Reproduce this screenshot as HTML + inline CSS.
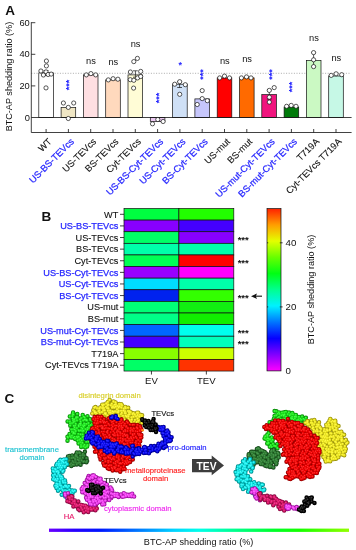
<!DOCTYPE html>
<html><head><meta charset="utf-8"><title>Figure</title>
<style>html,body{margin:0;padding:0;background:#fff}svg{display:block}text{font-family:"Liberation Sans", sans-serif}</style>
</head><body>
<svg width="356" height="550" viewBox="0 0 356 550" fill="#111">
<rect width="356" height="550" fill="#fff"/>
<g id="panelA">
<text x="5.2" y="15.0" font-size="13.5" font-weight="bold">A</text>
<line x1="31.3" y1="73.3" x2="349.6" y2="73.3" stroke="#888" stroke-width="0.7" stroke-dasharray="1 1.6"/>
<rect x="38.80" y="72.90" width="14.6" height="44.60" fill="#ffffff" stroke="#111" stroke-width="0.7"/>
<rect x="61.10" y="107.40" width="14.6" height="10.10" fill="#efe6c4" stroke="#111" stroke-width="0.7"/>
<rect x="83.40" y="74.90" width="14.6" height="42.60" fill="#ffdfe2" stroke="#111" stroke-width="0.7"/>
<rect x="105.70" y="79.90" width="14.6" height="37.60" fill="#ffd9bd" stroke="#111" stroke-width="0.7"/>
<rect x="128.00" y="74.90" width="14.6" height="42.60" fill="#fffcd6" stroke="#111" stroke-width="0.7"/>
<rect x="150.30" y="117.50" width="14.6" height="3.90" fill="#ecc9f2" stroke="#111" stroke-width="0.7"/>
<rect x="172.60" y="84.20" width="14.6" height="33.30" fill="#cfe0f6" stroke="#111" stroke-width="0.7"/>
<rect x="194.90" y="98.90" width="14.6" height="18.60" fill="#c6c6fb" stroke="#111" stroke-width="0.7"/>
<rect x="217.20" y="77.90" width="14.6" height="39.60" fill="#ff0000" stroke="#111" stroke-width="0.7"/>
<rect x="239.50" y="77.90" width="14.6" height="39.60" fill="#ff6a00" stroke="#111" stroke-width="0.7"/>
<rect x="261.80" y="94.60" width="14.6" height="22.90" fill="#f0147e" stroke="#111" stroke-width="0.7"/>
<rect x="284.10" y="107.00" width="14.6" height="10.50" fill="#007a0a" stroke="#111" stroke-width="0.7"/>
<rect x="306.40" y="60.40" width="14.6" height="57.10" fill="#cbf9c3" stroke="#111" stroke-width="0.7"/>
<rect x="328.70" y="76.00" width="14.6" height="41.50" fill="#c6f8e6" stroke="#111" stroke-width="0.7"/>
<path d="M31.3 22.2V132.5H351.6M31.3 117.5H351.6" fill="none" stroke="#111" stroke-width="0.8"/>
<line x1="31.3" y1="22.70" x2="35.3" y2="22.70" stroke="#111" stroke-width="0.8"/>
<line x1="31.3" y1="54.30" x2="35.3" y2="54.30" stroke="#111" stroke-width="0.8"/>
<line x1="31.3" y1="85.90" x2="35.3" y2="85.90" stroke="#111" stroke-width="0.8"/>
<text x="29.8" y="25.70" font-size="9.3" text-anchor="end">60</text>
<text x="29.8" y="57.30" font-size="9.3" text-anchor="end">40</text>
<text x="29.8" y="88.90" font-size="9.3" text-anchor="end">20</text>
<text x="29.8" y="120.50" font-size="9.3" text-anchor="end">0</text>
<line x1="46.10" y1="132.5" x2="46.10" y2="129.0" stroke="#111" stroke-width="0.8"/>
<text transform="translate(47.70 137.60) rotate(-45)" font-size="9.3" text-anchor="end" dominant-baseline="hanging" fill="#111" stroke="#111" stroke-width="0.1">WT</text>
<line x1="68.40" y1="132.5" x2="68.40" y2="129.0" stroke="#111" stroke-width="0.8"/>
<text transform="translate(70.00 137.60) rotate(-45)" font-size="9.3" text-anchor="end" dominant-baseline="hanging" fill="#2828ff" stroke="#2828ff" stroke-width="0.25">US-BS-TEVcs</text>
<line x1="90.70" y1="132.5" x2="90.70" y2="129.0" stroke="#111" stroke-width="0.8"/>
<text transform="translate(92.30 137.60) rotate(-45)" font-size="9.3" text-anchor="end" dominant-baseline="hanging" fill="#111" stroke="#111" stroke-width="0.1">US-TEVcs</text>
<line x1="113.00" y1="132.5" x2="113.00" y2="129.0" stroke="#111" stroke-width="0.8"/>
<text transform="translate(114.60 137.60) rotate(-45)" font-size="9.3" text-anchor="end" dominant-baseline="hanging" fill="#111" stroke="#111" stroke-width="0.1">BS-TEVcs</text>
<line x1="135.30" y1="132.5" x2="135.30" y2="129.0" stroke="#111" stroke-width="0.8"/>
<text transform="translate(136.90 137.60) rotate(-45)" font-size="9.3" text-anchor="end" dominant-baseline="hanging" fill="#111" stroke="#111" stroke-width="0.1">Cyt-TEVcs</text>
<line x1="157.60" y1="132.5" x2="157.60" y2="129.0" stroke="#111" stroke-width="0.8"/>
<text transform="translate(159.20 137.60) rotate(-45)" font-size="9.3" text-anchor="end" dominant-baseline="hanging" fill="#2828ff" stroke="#2828ff" stroke-width="0.25">US-BS-Cyt-TEVcs</text>
<line x1="179.90" y1="132.5" x2="179.90" y2="129.0" stroke="#111" stroke-width="0.8"/>
<text transform="translate(181.50 137.60) rotate(-45)" font-size="9.3" text-anchor="end" dominant-baseline="hanging" fill="#2828ff" stroke="#2828ff" stroke-width="0.25">US-Cyt-TEVcs</text>
<line x1="202.20" y1="132.5" x2="202.20" y2="129.0" stroke="#111" stroke-width="0.8"/>
<text transform="translate(203.80 137.60) rotate(-45)" font-size="9.3" text-anchor="end" dominant-baseline="hanging" fill="#2828ff" stroke="#2828ff" stroke-width="0.25">BS-Cyt-TEVcs</text>
<line x1="224.50" y1="132.5" x2="224.50" y2="129.0" stroke="#111" stroke-width="0.8"/>
<text transform="translate(226.10 137.60) rotate(-45)" font-size="9.3" text-anchor="end" dominant-baseline="hanging" fill="#111" stroke="#111" stroke-width="0.1">US-mut</text>
<line x1="246.80" y1="132.5" x2="246.80" y2="129.0" stroke="#111" stroke-width="0.8"/>
<text transform="translate(248.40 137.60) rotate(-45)" font-size="9.3" text-anchor="end" dominant-baseline="hanging" fill="#111" stroke="#111" stroke-width="0.1">BS-mut</text>
<line x1="269.10" y1="132.5" x2="269.10" y2="129.0" stroke="#111" stroke-width="0.8"/>
<text transform="translate(270.70 137.60) rotate(-45)" font-size="9.3" text-anchor="end" dominant-baseline="hanging" fill="#2828ff" stroke="#2828ff" stroke-width="0.25">US-mut-Cyt-TEVcs</text>
<line x1="291.40" y1="132.5" x2="291.40" y2="129.0" stroke="#111" stroke-width="0.8"/>
<text transform="translate(293.00 137.60) rotate(-45)" font-size="9.3" text-anchor="end" dominant-baseline="hanging" fill="#2828ff" stroke="#2828ff" stroke-width="0.25">BS-mut-Cyt-TEVcs</text>
<line x1="313.70" y1="132.5" x2="313.70" y2="129.0" stroke="#111" stroke-width="0.8"/>
<text transform="translate(315.30 137.60) rotate(-45)" font-size="9.3" text-anchor="end" dominant-baseline="hanging" fill="#111" stroke="#111" stroke-width="0.1">T719A</text>
<line x1="336.00" y1="132.5" x2="336.00" y2="129.0" stroke="#111" stroke-width="0.8"/>
<text transform="translate(337.60 137.60) rotate(-45)" font-size="9.3" text-anchor="end" dominant-baseline="hanging" fill="#111" stroke="#111" stroke-width="0.1">Cyt-TEVcs T719A</text>
<path d="M135.4 70.8V77.2M133.0 70.8h4.8M133.0 77.2h4.8" stroke="#111" stroke-width="0.7" fill="none"/>
<path d="M313.6 52.6V66.6M311.20000000000005 52.6h4.8M311.20000000000005 66.6h4.8" stroke="#111" stroke-width="0.7" fill="none"/>
<path d="M179.6 81.5V87.5M177.2 81.5h4.8M177.2 87.5h4.8" stroke="#111" stroke-width="0.7" fill="none"/>
<path d="M46.1 70.5V75.5M43.7 70.5h4.8M43.7 75.5h4.8" stroke="#111" stroke-width="0.7" fill="none"/>
<path d="M269.3 90V99M266.90000000000003 90h4.8M266.90000000000003 99h4.8" stroke="#111" stroke-width="0.7" fill="none"/>
<circle cx="46.4" cy="61" r="2.1" fill="#fff" stroke="#111" stroke-width="0.7"/>
<circle cx="46.4" cy="65.9" r="2.1" fill="#fff" stroke="#111" stroke-width="0.7"/>
<circle cx="40.9" cy="71" r="2.1" fill="#fff" stroke="#111" stroke-width="0.7"/>
<circle cx="46" cy="71.9" r="2.1" fill="#fff" stroke="#111" stroke-width="0.7"/>
<circle cx="43.4" cy="75" r="2.1" fill="#fff" stroke="#111" stroke-width="0.7"/>
<circle cx="48.1" cy="74.5" r="2.1" fill="#fff" stroke="#111" stroke-width="0.7"/>
<circle cx="51.2" cy="74.1" r="2.1" fill="#fff" stroke="#111" stroke-width="0.7"/>
<circle cx="46" cy="87.9" r="2.1" fill="#fff" stroke="#111" stroke-width="0.7"/>
<circle cx="63.4" cy="103" r="2.1" fill="#fff" stroke="#111" stroke-width="0.7"/>
<circle cx="73.7" cy="103" r="2.1" fill="#fff" stroke="#111" stroke-width="0.7"/>
<circle cx="68.3" cy="107.4" r="2.1" fill="#fff" stroke="#111" stroke-width="0.7"/>
<circle cx="68.3" cy="118.5" r="2.1" fill="#fff" stroke="#111" stroke-width="0.7"/>
<circle cx="86.3" cy="74.9" r="2.1" fill="#fff" stroke="#111" stroke-width="0.7"/>
<circle cx="90.9" cy="73.6" r="2.1" fill="#fff" stroke="#111" stroke-width="0.7"/>
<circle cx="95.7" cy="74.9" r="2.1" fill="#fff" stroke="#111" stroke-width="0.7"/>
<circle cx="108.3" cy="79.9" r="2.1" fill="#fff" stroke="#111" stroke-width="0.7"/>
<circle cx="113.1" cy="78.7" r="2.1" fill="#fff" stroke="#111" stroke-width="0.7"/>
<circle cx="117.9" cy="79.2" r="2.1" fill="#fff" stroke="#111" stroke-width="0.7"/>
<circle cx="137.4" cy="58.4" r="2.1" fill="#fff" stroke="#111" stroke-width="0.7"/>
<circle cx="133.8" cy="61.6" r="2.1" fill="#fff" stroke="#111" stroke-width="0.7"/>
<circle cx="130.4" cy="72.0" r="2.1" fill="#fff" stroke="#111" stroke-width="0.7"/>
<circle cx="140.7" cy="71.4" r="2.1" fill="#fff" stroke="#111" stroke-width="0.7"/>
<circle cx="130.3" cy="79.7" r="2.1" fill="#fff" stroke="#111" stroke-width="0.7"/>
<circle cx="133.8" cy="80.3" r="2.1" fill="#fff" stroke="#111" stroke-width="0.7"/>
<circle cx="137.6" cy="77.9" r="2.1" fill="#fff" stroke="#111" stroke-width="0.7"/>
<circle cx="140.7" cy="76.5" r="2.1" fill="#fff" stroke="#111" stroke-width="0.7"/>
<circle cx="133.6" cy="88.1" r="2.1" fill="#fff" stroke="#111" stroke-width="0.7"/>
<circle cx="152.5" cy="123.8" r="2.1" fill="#fff" stroke="#111" stroke-width="0.7"/>
<circle cx="157.8" cy="119.5" r="2.1" fill="#fff" stroke="#111" stroke-width="0.7"/>
<circle cx="163.1" cy="121.5" r="2.1" fill="#fff" stroke="#111" stroke-width="0.7"/>
<circle cx="179.7" cy="81.7" r="2.1" fill="#fff" stroke="#111" stroke-width="0.7"/>
<circle cx="174.7" cy="84.2" r="2.1" fill="#fff" stroke="#111" stroke-width="0.7"/>
<circle cx="185.3" cy="84.7" r="2.1" fill="#fff" stroke="#111" stroke-width="0.7"/>
<circle cx="179.7" cy="94.3" r="2.1" fill="#fff" stroke="#111" stroke-width="0.7"/>
<circle cx="202.2" cy="90.6" r="2.1" fill="#fff" stroke="#111" stroke-width="0.7"/>
<circle cx="202.2" cy="98.6" r="2.1" fill="#fff" stroke="#111" stroke-width="0.7"/>
<circle cx="207.3" cy="100.7" r="2.1" fill="#fff" stroke="#111" stroke-width="0.7"/>
<circle cx="197.2" cy="104.5" r="2.1" fill="#fff" stroke="#111" stroke-width="0.7"/>
<circle cx="219.7" cy="77.9" r="2.1" fill="#fff" stroke="#111" stroke-width="0.7"/>
<circle cx="224.5" cy="76.1" r="2.1" fill="#fff" stroke="#111" stroke-width="0.7"/>
<circle cx="229.5" cy="77.9" r="2.1" fill="#fff" stroke="#111" stroke-width="0.7"/>
<circle cx="241.4" cy="77.9" r="2.1" fill="#fff" stroke="#111" stroke-width="0.7"/>
<circle cx="246.5" cy="76.9" r="2.1" fill="#fff" stroke="#111" stroke-width="0.7"/>
<circle cx="251" cy="77.9" r="2.1" fill="#fff" stroke="#111" stroke-width="0.7"/>
<circle cx="274.2" cy="87.6" r="2.1" fill="#fff" stroke="#111" stroke-width="0.7"/>
<circle cx="269.3" cy="90.4" r="2.1" fill="#fff" stroke="#111" stroke-width="0.7"/>
<circle cx="269.3" cy="97.2" r="2.1" fill="#fff" stroke="#111" stroke-width="0.7"/>
<circle cx="269.3" cy="102.1" r="2.1" fill="#fff" stroke="#111" stroke-width="0.7"/>
<circle cx="286.6" cy="106.3" r="2.1" fill="#fff" stroke="#111" stroke-width="0.7"/>
<circle cx="291.2" cy="105.4" r="2.1" fill="#fff" stroke="#111" stroke-width="0.7"/>
<circle cx="296" cy="106.3" r="2.1" fill="#fff" stroke="#111" stroke-width="0.7"/>
<circle cx="313.6" cy="52.6" r="2.1" fill="#fff" stroke="#111" stroke-width="0.7"/>
<circle cx="313.6" cy="59.8" r="2.1" fill="#fff" stroke="#111" stroke-width="0.7"/>
<circle cx="313.6" cy="66.6" r="2.1" fill="#fff" stroke="#111" stroke-width="0.7"/>
<circle cx="331.2" cy="75.4" r="2.1" fill="#fff" stroke="#111" stroke-width="0.7"/>
<circle cx="336.1" cy="73.8" r="2.1" fill="#fff" stroke="#111" stroke-width="0.7"/>
<circle cx="341.7" cy="74.7" r="2.1" fill="#fff" stroke="#111" stroke-width="0.7"/>
<text transform="translate(72.30 85.05) rotate(-90)" font-size="9" font-weight="bold" text-anchor="middle" fill="#2828ff">***</text>
<text x="91.00" y="63.70" font-size="9.3" text-anchor="middle">ns</text>
<text x="113.30" y="64.90" font-size="9.3" text-anchor="middle">ns</text>
<text x="135.60" y="46.80" font-size="9.3" text-anchor="middle">ns</text>
<text transform="translate(162.00 97.90) rotate(-90)" font-size="9" font-weight="bold" text-anchor="middle" fill="#2828ff">***</text>
<text x="180.30" y="68.20" font-size="9" font-weight="bold" text-anchor="middle" fill="#2828ff">*</text>
<text transform="translate(205.60 74.50) rotate(-90)" font-size="9" font-weight="bold" text-anchor="middle" fill="#2828ff">***</text>
<text x="224.80" y="64.20" font-size="9.3" text-anchor="middle">ns</text>
<text x="247.10" y="61.70" font-size="9.3" text-anchor="middle">ns</text>
<text transform="translate(274.50 74.60) rotate(-90)" font-size="9" font-weight="bold" text-anchor="middle" fill="#2828ff">***</text>
<text transform="translate(294.80 87.10) rotate(-90)" font-size="9" font-weight="bold" text-anchor="middle" fill="#2828ff">***</text>
<text x="314.00" y="40.50" font-size="9.3" text-anchor="middle">ns</text>
<text x="336.30" y="60.90" font-size="9.3" text-anchor="middle">ns</text>
<text transform="translate(12.2 76.6) rotate(-90)" font-size="9.1" text-anchor="middle">BTC-AP shedding ratio (%)</text>
</g>
<g id="panelB">
<text x="41.5" y="220.9" font-size="13.5" font-weight="bold">B</text>
<rect x="124.0" y="208.50" width="54.90" height="11.61" fill="#00ff40" stroke="#111" stroke-width="0.7"/>
<rect x="178.9" y="208.50" width="54.90" height="11.61" fill="#22ff00" stroke="#111" stroke-width="0.7"/>
<line x1="120.0" y1="214.31" x2="124.0" y2="214.31" stroke="#111" stroke-width="0.8"/>
<text x="118.40" y="217.50" font-size="9.2" text-anchor="end" fill="#111" stroke="#111" stroke-width="0.1">WT</text>
<rect x="124.0" y="220.11" width="54.90" height="11.61" fill="#8800ff" stroke="#111" stroke-width="0.7"/>
<rect x="178.9" y="220.11" width="54.90" height="11.61" fill="#4400ff" stroke="#111" stroke-width="0.7"/>
<line x1="120.0" y1="225.92" x2="124.0" y2="225.92" stroke="#111" stroke-width="0.8"/>
<text x="118.40" y="229.12" font-size="9.2" text-anchor="end" fill="#2828ff" stroke="#2828ff" stroke-width="0.25">US-BS-TEVcs</text>
<rect x="124.0" y="231.72" width="54.90" height="11.61" fill="#00ff66" stroke="#111" stroke-width="0.7"/>
<rect x="178.9" y="231.72" width="54.90" height="11.61" fill="#8800ff" stroke="#111" stroke-width="0.7"/>
<line x1="120.0" y1="237.53" x2="124.0" y2="237.53" stroke="#111" stroke-width="0.8"/>
<text x="118.40" y="240.72" font-size="9.2" text-anchor="end" fill="#111" stroke="#111" stroke-width="0.1">US-TEVcs</text>
<rect x="124.0" y="243.33" width="54.90" height="11.61" fill="#00ffaa" stroke="#111" stroke-width="0.7"/>
<rect x="178.9" y="243.33" width="54.90" height="11.61" fill="#00ffaa" stroke="#111" stroke-width="0.7"/>
<line x1="120.0" y1="249.13" x2="124.0" y2="249.13" stroke="#111" stroke-width="0.8"/>
<text x="118.40" y="252.33" font-size="9.2" text-anchor="end" fill="#111" stroke="#111" stroke-width="0.1">BS-TEVcs</text>
<rect x="124.0" y="254.94" width="54.90" height="11.61" fill="#00ff55" stroke="#111" stroke-width="0.7"/>
<rect x="178.9" y="254.94" width="54.90" height="11.61" fill="#ff0000" stroke="#111" stroke-width="0.7"/>
<line x1="120.0" y1="260.75" x2="124.0" y2="260.75" stroke="#111" stroke-width="0.8"/>
<text x="118.40" y="263.94" font-size="9.2" text-anchor="end" fill="#111" stroke="#111" stroke-width="0.1">Cyt-TEVcs</text>
<rect x="124.0" y="266.55" width="54.90" height="11.61" fill="#9900ff" stroke="#111" stroke-width="0.7"/>
<rect x="178.9" y="266.55" width="54.90" height="11.61" fill="#ff00ff" stroke="#111" stroke-width="0.7"/>
<line x1="120.0" y1="272.36" x2="124.0" y2="272.36" stroke="#111" stroke-width="0.8"/>
<text x="118.40" y="275.56" font-size="9.2" text-anchor="end" fill="#2828ff" stroke="#2828ff" stroke-width="0.25">US-BS-Cyt-TEVcs</text>
<rect x="124.0" y="278.16" width="54.90" height="11.61" fill="#00ddff" stroke="#111" stroke-width="0.7"/>
<rect x="178.9" y="278.16" width="54.90" height="11.61" fill="#00ffaa" stroke="#111" stroke-width="0.7"/>
<line x1="120.0" y1="283.96" x2="124.0" y2="283.96" stroke="#111" stroke-width="0.8"/>
<text x="118.40" y="287.16" font-size="9.2" text-anchor="end" fill="#2828ff" stroke="#2828ff" stroke-width="0.25">US-Cyt-TEVcs</text>
<rect x="124.0" y="289.77" width="54.90" height="11.61" fill="#0022ee" stroke="#111" stroke-width="0.7"/>
<rect x="178.9" y="289.77" width="54.90" height="11.61" fill="#33ff00" stroke="#111" stroke-width="0.7"/>
<line x1="120.0" y1="295.57" x2="124.0" y2="295.57" stroke="#111" stroke-width="0.8"/>
<text x="118.40" y="298.77" font-size="9.2" text-anchor="end" fill="#2828ff" stroke="#2828ff" stroke-width="0.25">BS-Cyt-TEVcs</text>
<rect x="124.0" y="301.38" width="54.90" height="11.61" fill="#00ff77" stroke="#111" stroke-width="0.7"/>
<rect x="178.9" y="301.38" width="54.90" height="11.61" fill="#11ee11" stroke="#111" stroke-width="0.7"/>
<line x1="120.0" y1="307.19" x2="124.0" y2="307.19" stroke="#111" stroke-width="0.8"/>
<text x="118.40" y="310.38" font-size="9.2" text-anchor="end" fill="#111" stroke="#111" stroke-width="0.1">US-mut</text>
<rect x="124.0" y="312.99" width="54.90" height="11.61" fill="#00ff88" stroke="#111" stroke-width="0.7"/>
<rect x="178.9" y="312.99" width="54.90" height="11.61" fill="#11ee00" stroke="#111" stroke-width="0.7"/>
<line x1="120.0" y1="318.80" x2="124.0" y2="318.80" stroke="#111" stroke-width="0.8"/>
<text x="118.40" y="322.00" font-size="9.2" text-anchor="end" fill="#111" stroke="#111" stroke-width="0.1">BS-mut</text>
<rect x="124.0" y="324.60" width="54.90" height="11.61" fill="#0066ff" stroke="#111" stroke-width="0.7"/>
<rect x="178.9" y="324.60" width="54.90" height="11.61" fill="#00ffee" stroke="#111" stroke-width="0.7"/>
<line x1="120.0" y1="330.41" x2="124.0" y2="330.41" stroke="#111" stroke-width="0.8"/>
<text x="118.40" y="333.61" font-size="9.2" text-anchor="end" fill="#2828ff" stroke="#2828ff" stroke-width="0.25">US-mut-Cyt-TEVcs</text>
<rect x="124.0" y="336.21" width="54.90" height="11.61" fill="#4400ff" stroke="#111" stroke-width="0.7"/>
<rect x="178.9" y="336.21" width="54.90" height="11.61" fill="#00ffbb" stroke="#111" stroke-width="0.7"/>
<line x1="120.0" y1="342.01" x2="124.0" y2="342.01" stroke="#111" stroke-width="0.8"/>
<text x="118.40" y="345.21" font-size="9.2" text-anchor="end" fill="#2828ff" stroke="#2828ff" stroke-width="0.25">BS-mut-Cyt-TEVcs</text>
<rect x="124.0" y="347.82" width="54.90" height="11.61" fill="#88ff00" stroke="#111" stroke-width="0.7"/>
<rect x="178.9" y="347.82" width="54.90" height="11.61" fill="#ccff00" stroke="#111" stroke-width="0.7"/>
<line x1="120.0" y1="353.62" x2="124.0" y2="353.62" stroke="#111" stroke-width="0.8"/>
<text x="118.40" y="356.82" font-size="9.2" text-anchor="end" fill="#111" stroke="#111" stroke-width="0.1">T719A</text>
<rect x="124.0" y="359.43" width="54.90" height="11.61" fill="#00ff66" stroke="#111" stroke-width="0.7"/>
<rect x="178.9" y="359.43" width="54.90" height="11.61" fill="#ff3300" stroke="#111" stroke-width="0.7"/>
<line x1="120.0" y1="365.24" x2="124.0" y2="365.24" stroke="#111" stroke-width="0.8"/>
<text x="118.40" y="368.44" font-size="9.2" text-anchor="end" fill="#111" stroke="#111" stroke-width="0.1">Cyt-TEVcs T719A</text>
<line x1="151.45" y1="371.04" x2="151.45" y2="374.54" stroke="#111" stroke-width="0.8"/>
<text x="151.45" y="383.54" font-size="9.6" text-anchor="middle">EV</text>
<line x1="206.35" y1="371.04" x2="206.35" y2="374.54" stroke="#111" stroke-width="0.8"/>
<text x="206.35" y="383.54" font-size="9.6" text-anchor="middle">TEV</text>
<text x="243.2" y="242.62" font-size="9.5" font-weight="bold" text-anchor="middle">***</text>
<text x="243.2" y="265.85" font-size="9.5" font-weight="bold" text-anchor="middle">***</text>
<text x="243.2" y="300.68" font-size="9.5" font-weight="bold" text-anchor="middle">***</text>
<text x="243.2" y="335.50" font-size="9.5" font-weight="bold" text-anchor="middle">***</text>
<text x="243.2" y="347.12" font-size="9.5" font-weight="bold" text-anchor="middle">***</text>
<path d="M262 296.18H254" stroke="#111" stroke-width="1.1" fill="none"/><path d="M251 296.18L257 293.48L255.8 296.18L257 298.88Z" fill="#111"/>
<defs><linearGradient id="cb" x1="0" y1="1" x2="0" y2="0">
<stop offset="0.00" stop-color="#ff00ff"/>
<stop offset="0.10" stop-color="#8200ff"/>
<stop offset="0.20" stop-color="#0600ff"/>
<stop offset="0.30" stop-color="#0075ff"/>
<stop offset="0.40" stop-color="#00f1ff"/>
<stop offset="0.50" stop-color="#00ff90"/>
<stop offset="0.60" stop-color="#00ff14"/>
<stop offset="0.70" stop-color="#67ff00"/>
<stop offset="0.80" stop-color="#e4ff00"/>
<stop offset="0.90" stop-color="#ff9d00"/>
<stop offset="1.00" stop-color="#ff2100"/>
</linearGradient></defs>
<rect x="267.0" y="208.6" width="14.00" height="162.30" fill="url(#cb)" stroke="#111" stroke-width="0.7"/>
<text x="285.6" y="373.70" font-size="9.7">0</text>
<line x1="279.8" y1="306.9" x2="282.6" y2="306.9" stroke="#111" stroke-width="0.8"/>
<line x1="267.0" y1="306.9" x2="268.2" y2="306.9" stroke="#111" stroke-width="0.8"/>
<text x="285.6" y="310.30" font-size="9.7">20</text>
<line x1="279.8" y1="242.8" x2="282.6" y2="242.8" stroke="#111" stroke-width="0.8"/>
<line x1="267.0" y1="242.8" x2="268.2" y2="242.8" stroke="#111" stroke-width="0.8"/>
<text x="285.6" y="246.20" font-size="9.7">40</text>
<text transform="translate(313.8 289.5) rotate(-90)" font-size="9.1" text-anchor="middle">BTC-AP shedding ratio (%)</text>
</g>
<g id="panelC">
<text x="4.6" y="402.5" font-size="13.5" font-weight="bold">C</text>
<filter id="soft" x="-5%" y="-5%" width="110%" height="110%"><feGaussianBlur stdDeviation="0.45"/></filter>
<g filter="url(#soft)">
<defs>
<radialGradient id="gred" cx="0.45" cy="0.42" r="0.6"><stop offset="0" stop-color="#ff3030"/><stop offset="0.6" stop-color="#ea0000"/><stop offset="1" stop-color="#980000"/></radialGradient>
<circle id="cred" r="1.55" fill="url(#gred)"/>
<radialGradient id="gblue" cx="0.45" cy="0.42" r="0.6"><stop offset="0" stop-color="#3434ff"/><stop offset="0.6" stop-color="#0606e8"/><stop offset="1" stop-color="#000090"/></radialGradient>
<circle id="cblue" r="1.55" fill="url(#gblue)"/>
<radialGradient id="gyel" cx="0.45" cy="0.42" r="0.6"><stop offset="0" stop-color="#fffa48"/><stop offset="0.6" stop-color="#e8e01e"/><stop offset="1" stop-color="#9c9410"/></radialGradient>
<circle id="cyel" r="1.55" fill="url(#gyel)"/>
<radialGradient id="ggrn" cx="0.45" cy="0.42" r="0.6"><stop offset="0" stop-color="#48ff48"/><stop offset="0.6" stop-color="#1ade1a"/><stop offset="1" stop-color="#0c900c"/></radialGradient>
<circle id="cgrn" r="1.55" fill="url(#ggrn)"/>
<radialGradient id="gdgr" cx="0.45" cy="0.42" r="0.6"><stop offset="0" stop-color="#4a964e"/><stop offset="0.6" stop-color="#2c7830"/><stop offset="1" stop-color="#17461a"/></radialGradient>
<circle id="cdgr" r="1.55" fill="url(#gdgr)"/>
<radialGradient id="gcya" cx="0.45" cy="0.42" r="0.6"><stop offset="0" stop-color="#48ffff"/><stop offset="0.6" stop-color="#0cdcdc"/><stop offset="1" stop-color="#009090"/></radialGradient>
<circle id="ccya" r="1.55" fill="url(#gcya)"/>
<radialGradient id="gcri" cx="0.45" cy="0.42" r="0.6"><stop offset="0" stop-color="#f03c8c"/><stop offset="0.6" stop-color="#d41464"/><stop offset="1" stop-color="#880840"/></radialGradient>
<circle id="ccri" r="1.55" fill="url(#gcri)"/>
<radialGradient id="gmag" cx="0.45" cy="0.42" r="0.6"><stop offset="0" stop-color="#ff6cff"/><stop offset="0.6" stop-color="#ea38ea"/><stop offset="1" stop-color="#9c149c"/></radialGradient>
<circle id="cmag" r="1.55" fill="url(#gmag)"/>
<radialGradient id="gblk" cx="0.45" cy="0.42" r="0.6"><stop offset="0" stop-color="#3a3a3a"/><stop offset="0.6" stop-color="#080808"/><stop offset="1" stop-color="#000000"/></radialGradient>
<circle id="cblk" r="1.55" fill="url(#gblk)"/>
</defs>
<path d="M73.5 414.7h0M82.5 442.9h0M85.4 447.4h0M72.1 435.6h0M84.3 423.6h0M86.4 442.0h0M74.7 427.5h0M87.7 440.6h0M82.6 429.0h0M73.9 432.4h0M78.7 425.5h0M81.4 427.8h0M86.3 420.4h0M75.2 438.9h0M86.2 419.7h0M74.9 429.7h0M87.1 420.5h0M68.0 437.5h0M78.8 437.0h0M75.9 431.2h0M77.7 417.4h0M83.6 431.0h0M78.7 430.3h0M90.4 420.1h0M77.1 436.6h0M86.3 433.2h0M89.0 426.0h0M82.8 434.6h0M71.3 429.5h0M77.4 437.7h0M83.7 426.9h0M81.3 418.2h0M80.1 419.4h0M81.0 430.5h0M85.5 429.2h0M73.6 437.8h0M84.5 439.7h0M87.0 431.7h0M76.4 417.2h0M91.0 425.1h0M70.2 423.4h0M72.2 423.3h0M74.7 436.8h0M82.7 414.9h0M75.9 423.9h0M87.5 416.2h0M80.9 423.4h0M80.5 442.4h0M89.1 441.1h0M74.4 419.5h0M80.6 438.8h0M90.0 419.0h0M69.6 434.0h0M88.6 441.8h0M81.9 440.6h0M77.3 414.0h0M88.5 423.2h0M92.3 423.9h0M73.2 420.6h0M89.2 428.2h0M73.1 412.5h0M72.5 416.2h0M92.4 420.7h0M86.5 424.1h0M84.4 436.8h0M83.7 416.9h0M82.4 431.4h0M81.2 446.9h0M75.1 433.7h0M78.6 443.5h0M83.6 446.4h0M79.4 440.0h0M79.2 430.9h0M73.8 426.0h0M84.8 419.6h0M82.7 437.1h0M67.6 421.4h0M76.2 418.1h0M79.7 424.0h0M73.6 422.3h0M75.4 425.9h0M73.5 433.4h0M87.5 429.5h0M67.5 440.7h0M87.5 445.1h0M89.5 432.1h0M77.7 440.6h0M67.5 436.8h0M84.8 417.6h0M70.3 425.7h0M81.2 445.1h0M87.1 446.5h0M72.7 418.8h0M70.1 421.6h0M80.8 434.5h0M77.2 420.5h0M77.0 428.3h0M84.6 445.0h0M83.7 438.7h0M83.2 425.5h0M73.2 429.3h0M78.8 426.6h0M74.9 421.4h0M80.7 421.6h0M69.8 416.5h0M71.1 437.5h0M70.1 436.1h0M72.7 414.3h0M84.8 425.6h0M78.4 434.1h0M83.3 420.6h0M87.6 427.8h0M80.8 425.1h0M72.2 432.0h0" stroke="#0c900c" stroke-width="4.5" stroke-linecap="round" fill="none"/>
<path d="M73.5 414.7h0M82.5 442.9h0M85.4 447.4h0M72.1 435.6h0M84.3 423.6h0M86.4 442.0h0M74.7 427.5h0M87.7 440.6h0M82.6 429.0h0M73.9 432.4h0M78.7 425.5h0M81.4 427.8h0M86.3 420.4h0M75.2 438.9h0M86.2 419.7h0M74.9 429.7h0M87.1 420.5h0M68.0 437.5h0M78.8 437.0h0M75.9 431.2h0M77.7 417.4h0M83.6 431.0h0M78.7 430.3h0M90.4 420.1h0M77.1 436.6h0M86.3 433.2h0M89.0 426.0h0M82.8 434.6h0M71.3 429.5h0M77.4 437.7h0M83.7 426.9h0M81.3 418.2h0M80.1 419.4h0M81.0 430.5h0M85.5 429.2h0M73.6 437.8h0M84.5 439.7h0M87.0 431.7h0M76.4 417.2h0M91.0 425.1h0M70.2 423.4h0M72.2 423.3h0M74.7 436.8h0M82.7 414.9h0M75.9 423.9h0M87.5 416.2h0M80.9 423.4h0M80.5 442.4h0M89.1 441.1h0M74.4 419.5h0M80.6 438.8h0M90.0 419.0h0M69.6 434.0h0M88.6 441.8h0M81.9 440.6h0M77.3 414.0h0M88.5 423.2h0M92.3 423.9h0M73.2 420.6h0M89.2 428.2h0M73.1 412.5h0M72.5 416.2h0M92.4 420.7h0M86.5 424.1h0M84.4 436.8h0M83.7 416.9h0M82.4 431.4h0M81.2 446.9h0M75.1 433.7h0M78.6 443.5h0M83.6 446.4h0M79.4 440.0h0M79.2 430.9h0M73.8 426.0h0M84.8 419.6h0M82.7 437.1h0M67.6 421.4h0M76.2 418.1h0M79.7 424.0h0M73.6 422.3h0M75.4 425.9h0M73.5 433.4h0M87.5 429.5h0M67.5 440.7h0M87.5 445.1h0M89.5 432.1h0M77.7 440.6h0M67.5 436.8h0M84.8 417.6h0M70.3 425.7h0M81.2 445.1h0M87.1 446.5h0M72.7 418.8h0M70.1 421.6h0M80.8 434.5h0M77.2 420.5h0M77.0 428.3h0M84.6 445.0h0M83.7 438.7h0M83.2 425.5h0M73.2 429.3h0M78.8 426.6h0M74.9 421.4h0M80.7 421.6h0M69.8 416.5h0M71.1 437.5h0M70.1 436.1h0M72.7 414.3h0M84.8 425.6h0M78.4 434.1h0M83.3 420.6h0M87.6 427.8h0M80.8 425.1h0M72.2 432.0h0" stroke="#1ade1a" stroke-width="2.8" stroke-linecap="round" fill="none"/>
<path d="M73.3 414.4h0M82.3 442.7h0M85.2 447.2h0M71.9 435.4h0M84.1 423.3h0M86.2 441.8h0M74.5 427.2h0M87.5 440.3h0M82.4 428.8h0M73.7 432.2h0M78.5 425.2h0M81.2 427.6h0M86.1 420.2h0M75.0 438.7h0M86.0 419.4h0M74.7 429.4h0M86.9 420.3h0M67.8 437.2h0M78.6 436.7h0M75.7 430.9h0M77.5 417.1h0M83.4 430.7h0M78.5 430.1h0M90.2 419.9h0M76.9 436.4h0M86.1 433.0h0M88.8 425.8h0M82.6 434.3h0M71.1 429.2h0M77.2 437.5h0M83.5 426.6h0M81.1 418.0h0M79.9 419.2h0M80.8 430.3h0M85.3 429.0h0M73.4 437.5h0M84.3 439.4h0M86.8 431.5h0M76.2 417.0h0M90.8 424.9h0M70.0 423.2h0M72.0 423.1h0M74.5 436.6h0M82.5 414.7h0M75.7 423.7h0M87.3 415.9h0M80.7 423.2h0M80.3 442.1h0M88.9 440.9h0M74.2 419.2h0M80.4 438.5h0M89.8 418.7h0M69.4 433.7h0M88.4 441.6h0M81.7 440.3h0M77.1 413.8h0M88.3 423.0h0M92.1 423.7h0M73.0 420.3h0M89.0 428.0h0M72.9 412.3h0M72.3 415.9h0M92.2 420.5h0M86.3 423.8h0M84.2 436.5h0M83.5 416.6h0M82.2 431.1h0M81.0 446.7h0M74.9 433.5h0M78.4 443.2h0M83.4 446.1h0M79.2 439.7h0M79.0 430.7h0M73.6 425.8h0M84.6 419.4h0M82.5 436.9h0M67.4 421.1h0M76.0 417.9h0M79.5 423.8h0M73.4 422.0h0M75.2 425.6h0M73.3 433.2h0M87.3 429.3h0M67.3 440.4h0M87.3 444.9h0M89.3 431.9h0M77.5 440.3h0M67.3 436.5h0M84.6 417.3h0M70.1 425.4h0M81.0 444.9h0M86.9 446.3h0M72.5 418.5h0M69.9 421.3h0M80.6 434.3h0M77.0 420.2h0M76.8 428.0h0M84.4 444.7h0M83.5 438.5h0M83.0 425.3h0M73.0 429.1h0M78.6 426.3h0M74.7 421.1h0M80.5 421.4h0M69.6 416.2h0M70.9 437.3h0M69.9 435.9h0M72.5 414.0h0M84.6 425.3h0M78.2 433.8h0M83.1 420.3h0M87.4 427.6h0M80.6 424.9h0M72.0 431.7h0" stroke="#48ff48" stroke-width="1.45" stroke-linecap="round" fill="none"/>
<path d="M107.9 405.5h0M118.5 415.4h0M98.6 411.2h0M99.4 410.6h0M140.2 414.8h0M106.4 403.5h0M141.7 416.8h0M130.2 423.0h0M135.0 414.6h0M95.5 407.1h0M119.5 417.4h0M144.1 421.4h0M93.3 410.3h0M135.1 419.9h0M125.2 411.5h0M115.9 415.7h0M132.0 423.8h0M112.5 414.3h0M122.0 420.2h0M94.4 407.7h0M112.7 411.4h0M128.2 407.8h0M111.0 405.4h0M125.8 415.9h0M126.7 416.7h0M103.4 410.3h0M128.3 415.1h0M128.5 416.8h0M97.2 408.4h0M116.0 404.4h0M141.9 423.1h0M99.7 415.3h0M110.3 410.7h0M106.3 417.8h0M138.4 420.8h0M123.5 410.6h0M102.8 405.8h0M105.9 414.3h0M117.1 409.4h0M142.4 421.2h0M105.9 418.7h0M129.6 414.4h0M121.1 414.4h0M118.7 410.9h0M106.2 406.8h0M123.1 415.9h0M134.6 424.5h0M99.5 408.5h0M123.6 418.1h0M121.2 410.8h0M107.8 402.0h0M132.5 425.5h0M129.7 420.2h0M115.9 406.8h0M136.2 416.4h0M133.5 413.2h0M113.5 412.3h0M131.5 417.3h0M111.0 416.5h0M104.8 410.4h0M125.7 408.2h0M121.3 404.2h0M113.5 401.5h0M128.6 419.1h0M132.6 414.3h0M102.4 408.2h0M105.9 413.3h0M127.4 422.3h0M139.5 416.7h0M107.8 419.2h0M114.5 417.2h0M137.6 418.7h0M107.2 408.2h0M129.6 411.4h0M100.4 407.3h0M133.5 416.9h0M121.3 417.7h0M110.0 418.6h0M107.7 415.7h0M110.8 413.0h0M124.0 408.6h0M117.4 412.2h0M104.0 417.7h0M104.9 413.4h0M94.7 411.5h0M134.0 422.3h0M110.8 415.0h0M129.2 412.9h0M111.8 403.8h0M109.9 416.5h0M108.4 404.8h0M109.3 412.9h0M120.5 419.5h0M115.2 411.5h0M137.1 412.7h0M99.8 412.7h0M103.2 415.5h0M102.2 404.7h0M140.5 420.0h0M123.3 421.3h0M115.6 402.4h0M129.2 421.4h0M137.8 415.3h0M118.8 407.6h0M119.7 406.5h0M108.4 408.5h0M125.3 407.0h0M99.5 416.4h0M124.7 419.8h0M117.6 406.1h0M119.3 404.1h0M130.7 412.3h0M117.4 417.4h0M128.2 411.2h0M112.2 407.7h0M136.3 426.8h0M121.4 407.7h0M138.0 423.6h0M96.3 415.3h0M109.6 400.0h0M104.0 404.6h0M113.6 418.9h0M131.9 419.7h0M114.6 404.8h0M118.4 412.6h0M116.1 419.3h0M92.3 413.6h0M113.2 406.5h0M118.3 418.9h0M122.2 405.5h0M114.3 407.6h0M125.8 413.3h0M94.9 412.8h0M133.9 426.6h0M97.0 414.2h0M96.1 412.7h0M131.2 422.3h0M104.0 408.2h0M137.0 422.2h0M142.1 415.3h0M124.8 413.2h0M138.2 412.7h0M111.3 420.8h0M102.1 412.2h0M108.0 410.9h0M121.8 412.9h0" stroke="#9c9410" stroke-width="4.5" stroke-linecap="round" fill="none"/>
<path d="M107.9 405.5h0M118.5 415.4h0M98.6 411.2h0M99.4 410.6h0M140.2 414.8h0M106.4 403.5h0M141.7 416.8h0M130.2 423.0h0M135.0 414.6h0M95.5 407.1h0M119.5 417.4h0M144.1 421.4h0M93.3 410.3h0M135.1 419.9h0M125.2 411.5h0M115.9 415.7h0M132.0 423.8h0M112.5 414.3h0M122.0 420.2h0M94.4 407.7h0M112.7 411.4h0M128.2 407.8h0M111.0 405.4h0M125.8 415.9h0M126.7 416.7h0M103.4 410.3h0M128.3 415.1h0M128.5 416.8h0M97.2 408.4h0M116.0 404.4h0M141.9 423.1h0M99.7 415.3h0M110.3 410.7h0M106.3 417.8h0M138.4 420.8h0M123.5 410.6h0M102.8 405.8h0M105.9 414.3h0M117.1 409.4h0M142.4 421.2h0M105.9 418.7h0M129.6 414.4h0M121.1 414.4h0M118.7 410.9h0M106.2 406.8h0M123.1 415.9h0M134.6 424.5h0M99.5 408.5h0M123.6 418.1h0M121.2 410.8h0M107.8 402.0h0M132.5 425.5h0M129.7 420.2h0M115.9 406.8h0M136.2 416.4h0M133.5 413.2h0M113.5 412.3h0M131.5 417.3h0M111.0 416.5h0M104.8 410.4h0M125.7 408.2h0M121.3 404.2h0M113.5 401.5h0M128.6 419.1h0M132.6 414.3h0M102.4 408.2h0M105.9 413.3h0M127.4 422.3h0M139.5 416.7h0M107.8 419.2h0M114.5 417.2h0M137.6 418.7h0M107.2 408.2h0M129.6 411.4h0M100.4 407.3h0M133.5 416.9h0M121.3 417.7h0M110.0 418.6h0M107.7 415.7h0M110.8 413.0h0M124.0 408.6h0M117.4 412.2h0M104.0 417.7h0M104.9 413.4h0M94.7 411.5h0M134.0 422.3h0M110.8 415.0h0M129.2 412.9h0M111.8 403.8h0M109.9 416.5h0M108.4 404.8h0M109.3 412.9h0M120.5 419.5h0M115.2 411.5h0M137.1 412.7h0M99.8 412.7h0M103.2 415.5h0M102.2 404.7h0M140.5 420.0h0M123.3 421.3h0M115.6 402.4h0M129.2 421.4h0M137.8 415.3h0M118.8 407.6h0M119.7 406.5h0M108.4 408.5h0M125.3 407.0h0M99.5 416.4h0M124.7 419.8h0M117.6 406.1h0M119.3 404.1h0M130.7 412.3h0M117.4 417.4h0M128.2 411.2h0M112.2 407.7h0M136.3 426.8h0M121.4 407.7h0M138.0 423.6h0M96.3 415.3h0M109.6 400.0h0M104.0 404.6h0M113.6 418.9h0M131.9 419.7h0M114.6 404.8h0M118.4 412.6h0M116.1 419.3h0M92.3 413.6h0M113.2 406.5h0M118.3 418.9h0M122.2 405.5h0M114.3 407.6h0M125.8 413.3h0M94.9 412.8h0M133.9 426.6h0M97.0 414.2h0M96.1 412.7h0M131.2 422.3h0M104.0 408.2h0M137.0 422.2h0M142.1 415.3h0M124.8 413.2h0M138.2 412.7h0M111.3 420.8h0M102.1 412.2h0M108.0 410.9h0M121.8 412.9h0" stroke="#e8e01e" stroke-width="2.8" stroke-linecap="round" fill="none"/>
<path d="M107.7 405.3h0M118.3 415.2h0M98.4 410.9h0M99.2 410.4h0M140.0 414.6h0M106.2 403.2h0M141.5 416.6h0M130.0 422.8h0M134.8 414.3h0M95.3 406.8h0M119.3 417.2h0M143.9 421.1h0M93.1 410.1h0M134.9 419.6h0M125.0 411.3h0M115.7 415.5h0M131.8 423.5h0M112.3 414.0h0M121.8 419.9h0M94.2 407.5h0M112.5 411.2h0M128.0 407.5h0M110.8 405.2h0M125.6 415.6h0M126.5 416.5h0M103.2 410.1h0M128.1 414.9h0M128.3 416.6h0M97.0 408.1h0M115.8 404.2h0M141.7 422.9h0M99.5 415.1h0M110.1 410.4h0M106.1 417.6h0M138.2 420.6h0M123.3 410.4h0M102.6 405.5h0M105.7 414.1h0M116.9 409.2h0M142.2 421.0h0M105.7 418.4h0M129.4 414.2h0M120.9 414.1h0M118.5 410.7h0M106.0 406.5h0M122.9 415.6h0M134.4 424.2h0M99.3 408.2h0M123.4 417.9h0M121.0 410.5h0M107.6 401.7h0M132.3 425.2h0M129.5 419.9h0M115.7 406.5h0M136.0 416.2h0M133.3 412.9h0M113.3 412.0h0M131.3 417.1h0M110.8 416.3h0M104.6 410.2h0M125.5 408.0h0M121.1 404.0h0M113.3 401.3h0M128.4 418.8h0M132.4 414.0h0M102.2 407.9h0M105.7 413.1h0M127.2 422.1h0M139.3 416.5h0M107.6 419.0h0M114.3 416.9h0M137.4 418.5h0M107.0 407.9h0M129.4 411.1h0M100.2 407.0h0M133.3 416.6h0M121.1 417.5h0M109.8 418.3h0M107.5 415.5h0M110.6 412.7h0M123.8 408.3h0M117.2 411.9h0M103.8 417.5h0M104.7 413.2h0M94.5 411.2h0M133.8 422.1h0M110.6 414.7h0M129.0 412.6h0M111.6 403.5h0M109.7 416.3h0M108.2 404.5h0M109.1 412.6h0M120.3 419.2h0M115.0 411.2h0M136.9 412.5h0M99.6 412.4h0M103.0 415.2h0M102.0 404.4h0M140.3 419.7h0M123.1 421.0h0M115.4 402.2h0M129.0 421.1h0M137.6 415.0h0M118.6 407.3h0M119.5 406.2h0M108.2 408.2h0M125.1 406.7h0M99.3 416.2h0M124.5 419.6h0M117.4 405.9h0M119.1 403.8h0M130.5 412.0h0M117.2 417.2h0M128.0 410.9h0M112.0 407.4h0M136.1 426.5h0M121.2 407.5h0M137.8 423.4h0M96.1 415.1h0M109.4 399.7h0M103.8 404.4h0M113.4 418.7h0M131.7 419.5h0M114.4 404.5h0M118.2 412.3h0M115.9 419.0h0M92.1 413.3h0M113.0 406.2h0M118.1 418.6h0M122.0 405.3h0M114.1 407.4h0M125.6 413.1h0M94.7 412.5h0M133.7 426.4h0M96.8 414.0h0M95.9 412.5h0M131.0 422.0h0M103.8 408.0h0M136.8 421.9h0M141.9 415.0h0M124.6 413.0h0M138.0 412.4h0M111.1 420.6h0M101.9 411.9h0M107.8 410.6h0M121.6 412.7h0" stroke="#fffa48" stroke-width="1.45" stroke-linecap="round" fill="none"/>
<path d="M127.9 457.7h0M128.0 453.2h0M120.4 452.3h0M114.2 448.1h0M111.8 467.6h0M126.8 454.2h0M109.9 465.4h0M95.6 440.4h0M105.5 422.7h0M108.8 465.8h0M107.8 430.7h0M114.3 420.8h0M117.7 453.6h0M104.3 455.2h0M134.4 450.8h0M123.9 443.7h0M128.1 440.9h0M123.8 449.1h0M125.4 439.3h0M118.8 427.0h0M96.9 439.2h0M105.5 452.1h0M95.3 437.8h0M114.9 429.2h0M110.4 437.1h0M127.5 443.3h0M102.3 447.6h0M104.1 418.9h0M103.3 445.1h0M103.2 443.4h0M111.6 428.2h0M132.6 448.6h0M109.0 460.9h0M108.1 460.9h0M130.6 433.4h0M112.0 425.2h0M111.8 459.6h0M126.2 440.9h0M90.6 434.7h0M101.7 444.2h0M126.2 462.5h0M118.1 468.9h0M132.7 434.5h0M95.3 420.7h0M135.8 431.3h0M100.3 439.9h0M91.9 428.9h0M112.5 438.5h0M96.0 418.9h0M125.7 435.7h0M94.2 444.8h0M126.9 463.8h0M113.0 434.6h0M119.1 423.9h0M130.1 462.0h0M112.6 470.5h0M95.0 451.8h0M131.0 437.1h0M104.0 458.3h0M132.5 446.8h0M114.9 468.4h0M125.1 423.8h0M116.4 453.5h0M101.9 426.0h0M99.9 443.1h0M127.8 445.7h0M133.6 428.3h0M112.0 429.8h0M139.5 434.2h0M104.8 425.7h0M118.0 449.5h0M100.4 426.1h0M113.5 431.5h0M103.3 463.1h0M116.5 422.4h0M111.0 462.1h0M100.8 419.6h0M132.8 459.5h0M105.3 434.8h0M98.0 426.3h0M112.7 451.8h0M99.1 432.4h0M124.3 447.3h0M137.3 446.5h0M100.4 451.4h0M133.0 435.5h0M132.7 424.9h0M118.6 458.1h0M112.8 449.8h0M107.6 438.4h0M110.2 418.6h0M121.8 458.5h0M121.6 450.1h0M136.8 438.1h0M113.6 423.9h0M125.2 449.4h0M94.2 429.8h0M115.3 451.4h0M91.7 441.1h0M100.4 436.2h0M105.5 461.5h0M93.0 427.9h0M102.9 427.3h0M127.9 423.0h0M115.9 428.3h0M105.8 440.6h0M125.2 451.9h0M99.7 416.9h0M98.7 440.2h0M106.7 465.3h0M118.0 462.3h0M123.1 422.4h0M92.7 433.2h0M112.1 447.9h0M130.0 450.7h0M116.7 457.2h0M101.6 416.7h0M117.3 460.9h0M108.3 428.3h0M113.8 463.2h0M112.9 426.7h0M92.7 435.9h0M109.6 428.8h0M138.3 440.2h0M132.4 442.8h0M110.2 455.5h0M121.4 427.4h0M133.9 438.0h0M98.8 430.2h0M97.7 421.1h0M121.4 463.9h0M102.0 455.4h0M125.4 456.7h0M125.4 444.2h0M121.5 419.3h0M98.2 445.6h0M109.6 425.3h0M111.6 455.2h0M137.4 428.9h0M117.9 440.4h0M128.1 428.9h0M92.9 439.8h0M101.9 428.3h0M104.1 431.7h0M104.4 429.0h0M96.1 432.2h0M132.8 445.1h0M106.6 442.0h0M135.4 442.8h0M102.6 428.8h0M136.2 441.3h0M122.5 433.8h0M130.3 446.9h0M112.5 468.7h0M126.5 426.3h0M110.2 448.7h0M119.1 460.0h0M122.9 438.8h0M105.5 443.1h0M103.6 435.4h0M106.9 436.7h0M130.1 440.8h0M122.8 427.7h0M130.0 424.7h0M102.8 421.0h0M122.8 460.4h0M109.8 447.4h0M106.4 449.9h0M129.1 456.6h0M100.7 452.7h0M127.1 435.0h0M120.4 435.4h0M122.3 442.0h0M120.2 432.2h0M138.8 443.6h0M114.4 439.3h0M118.8 465.9h0M107.8 439.9h0M127.1 451.8h0M119.6 463.9h0M117.4 446.4h0M111.1 444.1h0M129.2 438.9h0M125.3 461.1h0M128.6 462.5h0M114.1 456.8h0M121.0 467.4h0M110.1 450.8h0M94.2 443.3h0M116.9 432.1h0M99.7 447.9h0M136.5 443.3h0M113.0 421.8h0M98.1 418.8h0M97.8 426.9h0M111.4 465.4h0M104.1 453.9h0M140.2 441.3h0M93.5 431.5h0M105.8 454.2h0M116.4 465.4h0M127.6 437.9h0M105.5 465.9h0M114.8 416.8h0M128.1 428.2h0M97.4 429.1h0M96.6 423.5h0M130.7 457.3h0M136.7 427.4h0M96.1 435.9h0M124.7 469.0h0M140.0 438.1h0M130.6 442.8h0M116.8 425.6h0M115.4 467.6h0M115.3 435.5h0M127.6 431.2h0M99.2 454.2h0M134.3 428.8h0M96.7 451.6h0M123.3 452.8h0M130.4 430.6h0M110.6 416.9h0M113.0 445.3h0M133.2 431.2h0M124.4 445.1h0M116.7 419.3h0M109.1 469.0h0M131.6 445.0h0M137.9 434.1h0M118.0 451.9h0M123.0 469.2h0M114.3 459.5h0M90.5 432.7h0M139.4 445.4h0M120.7 447.9h0M101.8 438.3h0M137.5 425.0h0M135.9 436.7h0M101.9 451.7h0M141.4 429.5h0M135.3 448.9h0M141.3 437.6h0M112.7 440.9h0M141.4 434.9h0M108.8 453.6h0M101.8 431.9h0M100.9 422.3h0M132.9 450.7h0M110.7 432.3h0M114.1 435.6h0M109.7 437.6h0M105.1 459.3h0M106.1 428.1h0M94.6 416.9h0M111.9 422.3h0M126.9 421.6h0M99.4 434.0h0M132.3 430.1h0M127.7 449.1h0M119.5 425.7h0M130.5 448.8h0M98.1 423.2h0M95.3 444.7h0M101.4 449.0h0M106.9 421.8h0M120.5 433.2h0M127.6 436.1h0M113.1 458.4h0M119.3 429.1h0M126.3 427.0h0M108.2 456.5h0M117.5 430.3h0M125.3 429.9h0M95.5 425.8h0M98.7 448.5h0M93.5 419.2h0M96.3 441.9h0M115.7 450.0h0M97.4 434.2h0M106.9 446.6h0M108.3 462.8h0M118.2 470.2h0M113.9 442.2h0M109.1 442.8h0M140.0 426.3h0M121.4 423.8h0M114.0 453.0h0M130.6 431.3h0M104.2 465.5h0M106.8 432.1h0M92.5 442.7h0M119.0 456.4h0M111.2 453.6h0M98.0 436.5h0M120.7 438.2h0M120.2 421.8h0M100.6 437.9h0M108.5 424.0h0M120.5 440.9h0M139.2 435.4h0M116.3 443.3h0M137.6 431.7h0M131.6 438.6h0M117.0 455.5h0M139.7 430.5h0M124.7 464.0h0M94.1 433.3h0M96.4 449.1h0M118.2 444.5h0M117.9 420.6h0M107.9 449.8h0M106.4 425.6h0M100.2 421.8h0M114.3 467.0h0M135.4 445.2h0M134.0 446.8h0M107.6 431.2h0M134.6 434.0h0M121.6 426.1h0M91.4 439.3h0M120.5 463.1h0M106.9 445.5h0M116.3 470.3h0M132.7 453.0h0M122.0 452.1h0M103.0 450.2h0M90.6 435.4h0M108.9 457.7h0M121.4 420.1h0M141.0 435.4h0M90.5 439.3h0M115.2 425.7h0M117.7 434.4h0M132.6 455.4h0M113.7 418.2h0M115.5 463.7h0M124.6 434.5h0M107.7 445.9h0M123.2 436.3h0M112.2 443.1h0M126.7 446.3h0M130.9 428.2h0M120.2 471.7h0M130.5 454.4h0M106.1 458.0h0M125.5 431.3h0M123.7 431.5h0M105.3 446.9h0M140.6 427.7h0M120.1 469.1h0M104.3 421.7h0M118.1 438.5h0M102.7 440.6h0M118.4 431.5h0M94.5 446.7h0M122.8 456.0h0M97.5 446.9h0M114.8 433.1h0M106.6 450.7h0M97.7 416.6h0M115.5 440.6h0M132.6 440.4h0M119.6 442.3h0M94.4 423.0h0M126.8 458.9h0M95.8 427.9h0M100.6 457.9h0M99.6 456.7h0M115.8 461.8h0M109.5 434.9h0M127.4 460.9h0M123.7 466.4h0M121.9 429.2h0M103.1 434.1h0M118.0 435.8h0M111.7 441.5h0M88.6 436.2h0M107.8 433.3h0M124.2 425.5h0M137.8 428.3h0M123.1 457.1h0M103.7 422.8h0M107.7 468.2h0M123.2 440.3h0M100.5 459.4h0M121.3 453.4h0M126.5 455.6h0M116.0 444.6h0M105.0 437.5h0M110.5 458.3h0M121.5 447.4h0M108.5 418.6h0M110.5 420.3h0M140.1 431.1h0M122.9 462.7h0M109.3 435.5h0M121.2 444.9h0M134.1 424.8h0" stroke="#980000" stroke-width="4.5" stroke-linecap="round" fill="none"/>
<path d="M127.9 457.7h0M128.0 453.2h0M120.4 452.3h0M114.2 448.1h0M111.8 467.6h0M126.8 454.2h0M109.9 465.4h0M95.6 440.4h0M105.5 422.7h0M108.8 465.8h0M107.8 430.7h0M114.3 420.8h0M117.7 453.6h0M104.3 455.2h0M134.4 450.8h0M123.9 443.7h0M128.1 440.9h0M123.8 449.1h0M125.4 439.3h0M118.8 427.0h0M96.9 439.2h0M105.5 452.1h0M95.3 437.8h0M114.9 429.2h0M110.4 437.1h0M127.5 443.3h0M102.3 447.6h0M104.1 418.9h0M103.3 445.1h0M103.2 443.4h0M111.6 428.2h0M132.6 448.6h0M109.0 460.9h0M108.1 460.9h0M130.6 433.4h0M112.0 425.2h0M111.8 459.6h0M126.2 440.9h0M90.6 434.7h0M101.7 444.2h0M126.2 462.5h0M118.1 468.9h0M132.7 434.5h0M95.3 420.7h0M135.8 431.3h0M100.3 439.9h0M91.9 428.9h0M112.5 438.5h0M96.0 418.9h0M125.7 435.7h0M94.2 444.8h0M126.9 463.8h0M113.0 434.6h0M119.1 423.9h0M130.1 462.0h0M112.6 470.5h0M95.0 451.8h0M131.0 437.1h0M104.0 458.3h0M132.5 446.8h0M114.9 468.4h0M125.1 423.8h0M116.4 453.5h0M101.9 426.0h0M99.9 443.1h0M127.8 445.7h0M133.6 428.3h0M112.0 429.8h0M139.5 434.2h0M104.8 425.7h0M118.0 449.5h0M100.4 426.1h0M113.5 431.5h0M103.3 463.1h0M116.5 422.4h0M111.0 462.1h0M100.8 419.6h0M132.8 459.5h0M105.3 434.8h0M98.0 426.3h0M112.7 451.8h0M99.1 432.4h0M124.3 447.3h0M137.3 446.5h0M100.4 451.4h0M133.0 435.5h0M132.7 424.9h0M118.6 458.1h0M112.8 449.8h0M107.6 438.4h0M110.2 418.6h0M121.8 458.5h0M121.6 450.1h0M136.8 438.1h0M113.6 423.9h0M125.2 449.4h0M94.2 429.8h0M115.3 451.4h0M91.7 441.1h0M100.4 436.2h0M105.5 461.5h0M93.0 427.9h0M102.9 427.3h0M127.9 423.0h0M115.9 428.3h0M105.8 440.6h0M125.2 451.9h0M99.7 416.9h0M98.7 440.2h0M106.7 465.3h0M118.0 462.3h0M123.1 422.4h0M92.7 433.2h0M112.1 447.9h0M130.0 450.7h0M116.7 457.2h0M101.6 416.7h0M117.3 460.9h0M108.3 428.3h0M113.8 463.2h0M112.9 426.7h0M92.7 435.9h0M109.6 428.8h0M138.3 440.2h0M132.4 442.8h0M110.2 455.5h0M121.4 427.4h0M133.9 438.0h0M98.8 430.2h0M97.7 421.1h0M121.4 463.9h0M102.0 455.4h0M125.4 456.7h0M125.4 444.2h0M121.5 419.3h0M98.2 445.6h0M109.6 425.3h0M111.6 455.2h0M137.4 428.9h0M117.9 440.4h0M128.1 428.9h0M92.9 439.8h0M101.9 428.3h0M104.1 431.7h0M104.4 429.0h0M96.1 432.2h0M132.8 445.1h0M106.6 442.0h0M135.4 442.8h0M102.6 428.8h0M136.2 441.3h0M122.5 433.8h0M130.3 446.9h0M112.5 468.7h0M126.5 426.3h0M110.2 448.7h0M119.1 460.0h0M122.9 438.8h0M105.5 443.1h0M103.6 435.4h0M106.9 436.7h0M130.1 440.8h0M122.8 427.7h0M130.0 424.7h0M102.8 421.0h0M122.8 460.4h0M109.8 447.4h0M106.4 449.9h0M129.1 456.6h0M100.7 452.7h0M127.1 435.0h0M120.4 435.4h0M122.3 442.0h0M120.2 432.2h0M138.8 443.6h0M114.4 439.3h0M118.8 465.9h0M107.8 439.9h0M127.1 451.8h0M119.6 463.9h0M117.4 446.4h0M111.1 444.1h0M129.2 438.9h0M125.3 461.1h0M128.6 462.5h0M114.1 456.8h0M121.0 467.4h0M110.1 450.8h0M94.2 443.3h0M116.9 432.1h0M99.7 447.9h0M136.5 443.3h0M113.0 421.8h0M98.1 418.8h0M97.8 426.9h0M111.4 465.4h0M104.1 453.9h0M140.2 441.3h0M93.5 431.5h0M105.8 454.2h0M116.4 465.4h0M127.6 437.9h0M105.5 465.9h0M114.8 416.8h0M128.1 428.2h0M97.4 429.1h0M96.6 423.5h0M130.7 457.3h0M136.7 427.4h0M96.1 435.9h0M124.7 469.0h0M140.0 438.1h0M130.6 442.8h0M116.8 425.6h0M115.4 467.6h0M115.3 435.5h0M127.6 431.2h0M99.2 454.2h0M134.3 428.8h0M96.7 451.6h0M123.3 452.8h0M130.4 430.6h0M110.6 416.9h0M113.0 445.3h0M133.2 431.2h0M124.4 445.1h0M116.7 419.3h0M109.1 469.0h0M131.6 445.0h0M137.9 434.1h0M118.0 451.9h0M123.0 469.2h0M114.3 459.5h0M90.5 432.7h0M139.4 445.4h0M120.7 447.9h0M101.8 438.3h0M137.5 425.0h0M135.9 436.7h0M101.9 451.7h0M141.4 429.5h0M135.3 448.9h0M141.3 437.6h0M112.7 440.9h0M141.4 434.9h0M108.8 453.6h0M101.8 431.9h0M100.9 422.3h0M132.9 450.7h0M110.7 432.3h0M114.1 435.6h0M109.7 437.6h0M105.1 459.3h0M106.1 428.1h0M94.6 416.9h0M111.9 422.3h0M126.9 421.6h0M99.4 434.0h0M132.3 430.1h0M127.7 449.1h0M119.5 425.7h0M130.5 448.8h0M98.1 423.2h0M95.3 444.7h0M101.4 449.0h0M106.9 421.8h0M120.5 433.2h0M127.6 436.1h0M113.1 458.4h0M119.3 429.1h0M126.3 427.0h0M108.2 456.5h0M117.5 430.3h0M125.3 429.9h0M95.5 425.8h0M98.7 448.5h0M93.5 419.2h0M96.3 441.9h0M115.7 450.0h0M97.4 434.2h0M106.9 446.6h0M108.3 462.8h0M118.2 470.2h0M113.9 442.2h0M109.1 442.8h0M140.0 426.3h0M121.4 423.8h0M114.0 453.0h0M130.6 431.3h0M104.2 465.5h0M106.8 432.1h0M92.5 442.7h0M119.0 456.4h0M111.2 453.6h0M98.0 436.5h0M120.7 438.2h0M120.2 421.8h0M100.6 437.9h0M108.5 424.0h0M120.5 440.9h0M139.2 435.4h0M116.3 443.3h0M137.6 431.7h0M131.6 438.6h0M117.0 455.5h0M139.7 430.5h0M124.7 464.0h0M94.1 433.3h0M96.4 449.1h0M118.2 444.5h0M117.9 420.6h0M107.9 449.8h0M106.4 425.6h0M100.2 421.8h0M114.3 467.0h0M135.4 445.2h0M134.0 446.8h0M107.6 431.2h0M134.6 434.0h0M121.6 426.1h0M91.4 439.3h0M120.5 463.1h0M106.9 445.5h0M116.3 470.3h0M132.7 453.0h0M122.0 452.1h0M103.0 450.2h0M90.6 435.4h0M108.9 457.7h0M121.4 420.1h0M141.0 435.4h0M90.5 439.3h0M115.2 425.7h0M117.7 434.4h0M132.6 455.4h0M113.7 418.2h0M115.5 463.7h0M124.6 434.5h0M107.7 445.9h0M123.2 436.3h0M112.2 443.1h0M126.7 446.3h0M130.9 428.2h0M120.2 471.7h0M130.5 454.4h0M106.1 458.0h0M125.5 431.3h0M123.7 431.5h0M105.3 446.9h0M140.6 427.7h0M120.1 469.1h0M104.3 421.7h0M118.1 438.5h0M102.7 440.6h0M118.4 431.5h0M94.5 446.7h0M122.8 456.0h0M97.5 446.9h0M114.8 433.1h0M106.6 450.7h0M97.7 416.6h0M115.5 440.6h0M132.6 440.4h0M119.6 442.3h0M94.4 423.0h0M126.8 458.9h0M95.8 427.9h0M100.6 457.9h0M99.6 456.7h0M115.8 461.8h0M109.5 434.9h0M127.4 460.9h0M123.7 466.4h0M121.9 429.2h0M103.1 434.1h0M118.0 435.8h0M111.7 441.5h0M88.6 436.2h0M107.8 433.3h0M124.2 425.5h0M137.8 428.3h0M123.1 457.1h0M103.7 422.8h0M107.7 468.2h0M123.2 440.3h0M100.5 459.4h0M121.3 453.4h0M126.5 455.6h0M116.0 444.6h0M105.0 437.5h0M110.5 458.3h0M121.5 447.4h0M108.5 418.6h0M110.5 420.3h0M140.1 431.1h0M122.9 462.7h0M109.3 435.5h0M121.2 444.9h0M134.1 424.8h0" stroke="#ea0000" stroke-width="2.8" stroke-linecap="round" fill="none"/>
<path d="M127.7 457.5h0M127.8 452.9h0M120.2 452.1h0M114.0 447.8h0M111.6 467.4h0M126.6 454.0h0M109.7 465.1h0M95.4 440.1h0M105.3 422.4h0M108.6 465.5h0M107.6 430.4h0M114.1 420.5h0M117.5 453.4h0M104.1 454.9h0M134.2 450.5h0M123.7 443.5h0M127.9 440.7h0M123.6 448.8h0M125.2 439.0h0M118.6 426.8h0M96.7 439.0h0M105.3 451.8h0M95.1 437.6h0M114.7 428.9h0M110.2 436.8h0M127.3 443.1h0M102.1 447.4h0M103.9 418.7h0M103.1 444.8h0M103.0 443.1h0M111.4 428.0h0M132.4 448.4h0M108.8 460.7h0M107.9 460.7h0M130.4 433.1h0M111.8 424.9h0M111.6 459.4h0M126.0 440.7h0M90.4 434.5h0M101.5 444.0h0M126.0 462.3h0M117.9 468.6h0M132.5 434.3h0M95.1 420.5h0M135.6 431.0h0M100.1 439.6h0M91.7 428.7h0M112.3 438.2h0M95.8 418.7h0M125.5 435.4h0M94.0 444.6h0M126.7 463.6h0M112.8 434.4h0M118.9 423.7h0M129.9 461.7h0M112.4 470.2h0M94.8 451.6h0M130.8 436.9h0M103.8 458.0h0M132.3 446.6h0M114.7 468.2h0M124.9 423.5h0M116.2 453.2h0M101.7 425.8h0M99.7 442.9h0M127.6 445.5h0M133.4 428.1h0M111.8 429.6h0M139.3 433.9h0M104.6 425.5h0M117.8 449.2h0M100.2 425.9h0M113.3 431.2h0M103.1 462.9h0M116.3 422.2h0M110.8 461.8h0M100.6 419.3h0M132.6 459.3h0M105.1 434.6h0M97.8 426.1h0M112.5 451.6h0M98.9 432.2h0M124.1 447.1h0M137.1 446.2h0M100.2 451.2h0M132.8 435.3h0M132.5 424.7h0M118.4 457.9h0M112.6 449.5h0M107.4 438.1h0M110.0 418.4h0M121.6 458.2h0M121.4 449.9h0M136.6 437.9h0M113.4 423.6h0M125.0 449.2h0M94.0 429.6h0M115.1 451.1h0M91.5 440.9h0M100.2 435.9h0M105.3 461.2h0M92.8 427.6h0M102.7 427.0h0M127.7 422.8h0M115.7 428.0h0M105.6 440.3h0M125.0 451.6h0M99.5 416.7h0M98.5 439.9h0M106.5 465.0h0M117.8 462.0h0M122.9 422.2h0M92.5 432.9h0M111.9 447.6h0M129.8 450.5h0M116.5 456.9h0M101.4 416.4h0M117.1 460.6h0M108.1 428.1h0M113.6 462.9h0M112.7 426.5h0M92.5 435.7h0M109.4 428.6h0M138.1 439.9h0M132.2 442.5h0M110.0 455.3h0M121.2 427.1h0M133.7 437.8h0M98.6 430.0h0M97.5 420.8h0M121.2 463.6h0M101.8 455.2h0M125.2 456.5h0M125.2 443.9h0M121.3 419.1h0M98.0 445.3h0M109.4 425.1h0M111.4 455.0h0M137.2 428.6h0M117.7 440.2h0M127.9 428.6h0M92.7 439.5h0M101.7 428.0h0M103.9 431.5h0M104.2 428.8h0M95.9 432.0h0M132.6 444.8h0M106.4 441.7h0M135.2 442.6h0M102.4 428.5h0M136.0 441.0h0M122.3 433.5h0M130.1 446.7h0M112.3 468.5h0M126.3 426.0h0M110.0 448.4h0M118.9 459.8h0M122.7 438.6h0M105.3 442.8h0M103.4 435.1h0M106.7 436.5h0M129.9 440.6h0M122.6 427.4h0M129.8 424.4h0M102.6 420.7h0M122.6 460.1h0M109.6 447.2h0M106.2 449.7h0M128.9 456.3h0M100.5 452.5h0M126.9 434.7h0M120.2 435.1h0M122.1 441.8h0M120.0 431.9h0M138.6 443.4h0M114.2 439.0h0M118.6 465.7h0M107.6 439.6h0M126.9 451.6h0M119.4 463.6h0M117.2 446.2h0M110.9 443.9h0M129.0 438.7h0M125.1 460.9h0M128.4 462.2h0M113.9 456.5h0M120.8 467.2h0M109.9 450.5h0M94.0 443.1h0M116.7 431.9h0M99.5 447.7h0M136.3 443.1h0M112.8 421.6h0M97.9 418.5h0M97.6 426.6h0M111.2 465.2h0M103.9 453.7h0M140.0 441.1h0M93.3 431.3h0M105.6 454.0h0M116.2 465.1h0M127.4 437.6h0M105.3 465.7h0M114.6 416.6h0M127.9 428.0h0M97.2 428.8h0M96.4 423.3h0M130.5 457.1h0M136.5 427.2h0M95.9 435.7h0M124.5 468.7h0M139.8 437.8h0M130.4 442.6h0M116.6 425.4h0M115.2 467.3h0M115.1 435.2h0M127.4 430.9h0M99.0 453.9h0M134.1 428.6h0M96.5 451.3h0M123.1 452.5h0M130.2 430.3h0M110.4 416.7h0M112.8 445.0h0M133.0 431.0h0M124.2 444.9h0M116.5 419.1h0M108.9 468.8h0M131.4 444.7h0M137.7 433.8h0M117.8 451.7h0M122.8 468.9h0M114.1 459.3h0M90.3 432.5h0M139.2 445.1h0M120.5 447.7h0M101.6 438.0h0M137.3 424.7h0M135.7 436.5h0M101.7 451.5h0M141.2 429.2h0M135.1 448.6h0M141.1 437.4h0M112.5 440.6h0M141.2 434.6h0M108.6 453.3h0M101.6 431.6h0M100.7 422.0h0M132.7 450.5h0M110.5 432.1h0M113.9 435.3h0M109.5 437.4h0M104.9 459.0h0M105.9 427.9h0M94.4 416.6h0M111.7 422.0h0M126.7 421.4h0M99.2 433.8h0M132.1 429.8h0M127.5 448.9h0M119.3 425.5h0M130.3 448.6h0M97.9 422.9h0M95.1 444.5h0M101.2 448.8h0M106.7 421.6h0M120.3 433.0h0M127.4 435.9h0M112.9 458.2h0M119.1 428.9h0M126.1 426.8h0M108.0 456.3h0M117.3 430.1h0M125.1 429.6h0M95.3 425.6h0M98.5 448.3h0M93.3 419.0h0M96.1 441.6h0M115.5 449.7h0M97.2 434.0h0M106.7 446.3h0M108.1 462.5h0M118.0 470.0h0M113.7 442.0h0M108.9 442.5h0M139.8 426.0h0M121.2 423.5h0M113.8 452.7h0M130.4 431.1h0M104.0 465.2h0M106.6 431.9h0M92.3 442.4h0M118.8 456.1h0M111.0 453.3h0M97.8 436.2h0M120.5 437.9h0M120.0 421.5h0M100.4 437.6h0M108.3 423.8h0M120.3 440.6h0M139.0 435.2h0M116.1 443.1h0M137.4 431.5h0M131.4 438.3h0M116.8 455.2h0M139.5 430.2h0M124.5 463.8h0M93.9 433.0h0M96.2 448.8h0M118.0 444.2h0M117.7 420.4h0M107.7 449.5h0M106.2 425.4h0M100.0 421.5h0M114.1 466.8h0M135.2 444.9h0M133.8 446.5h0M107.4 431.0h0M134.4 433.8h0M121.4 425.8h0M91.2 439.0h0M120.3 462.9h0M106.7 445.2h0M116.1 470.0h0M132.5 452.8h0M121.8 451.9h0M102.8 449.9h0M90.4 435.1h0M108.7 457.5h0M121.2 419.9h0M140.8 435.2h0M90.3 439.1h0M115.0 425.5h0M117.5 434.1h0M132.4 455.2h0M113.5 417.9h0M115.3 463.4h0M124.4 434.2h0M107.5 445.6h0M123.0 436.0h0M112.0 442.8h0M126.5 446.1h0M130.7 427.9h0M120.0 471.5h0M130.3 454.2h0M105.9 457.7h0M125.3 431.0h0M123.5 431.2h0M105.1 446.7h0M140.4 427.4h0M119.9 468.9h0M104.1 421.4h0M117.9 438.3h0M102.5 440.4h0M118.2 431.3h0M94.3 446.5h0M122.6 455.8h0M97.3 446.7h0M114.6 432.9h0M106.4 450.4h0M97.5 416.4h0M115.3 440.3h0M132.4 440.1h0M119.4 442.0h0M94.2 422.7h0M126.6 458.6h0M95.6 427.6h0M100.4 457.6h0M99.4 456.5h0M115.6 461.5h0M109.3 434.6h0M127.2 460.7h0M123.5 466.2h0M121.7 429.0h0M102.9 433.8h0M117.8 435.5h0M111.5 441.2h0M88.4 435.9h0M107.6 433.0h0M124.0 425.2h0M137.6 428.0h0M122.9 456.8h0M103.5 422.5h0M107.5 468.0h0M123.0 440.0h0M100.3 459.2h0M121.1 453.1h0M126.3 455.3h0M115.8 444.3h0M104.8 437.3h0M110.3 458.0h0M121.3 447.1h0M108.3 418.3h0M110.3 420.1h0M139.9 430.9h0M122.7 462.4h0M109.1 435.3h0M121.0 444.6h0M133.9 424.6h0" stroke="#ff3030" stroke-width="1.45" stroke-linecap="round" fill="none"/>
<path d="M112.2 417.6h0M115.9 417.9h0M115.9 416.1h0M112.4 416.5h0M111.2 417.7h0M117.6 418.9h0" stroke="#000090" stroke-width="4.5" stroke-linecap="round" fill="none"/>
<path d="M112.2 417.6h0M115.9 417.9h0M115.9 416.1h0M112.4 416.5h0M111.2 417.7h0M117.6 418.9h0" stroke="#0606e8" stroke-width="2.8" stroke-linecap="round" fill="none"/>
<path d="M112.0 417.4h0M115.7 417.7h0M115.7 415.8h0M112.2 416.2h0M111.0 417.5h0M117.4 418.6h0" stroke="#3434ff" stroke-width="1.45" stroke-linecap="round" fill="none"/>
<path d="M108.3 444.7h0M99.1 446.2h0M116.8 443.5h0M127.7 452.1h0M102.5 443.7h0M96.0 444.8h0M97.0 438.4h0M131.1 450.5h0M90.0 435.6h0M114.1 453.5h0M87.8 438.3h0M99.9 438.9h0M107.0 440.8h0M109.3 451.6h0M125.9 452.1h0M128.2 449.4h0M138.3 448.2h0M132.1 446.0h0M120.8 452.2h0M96.1 437.0h0M85.8 438.5h0M125.9 453.8h0M104.6 443.5h0M100.1 446.9h0M131.7 451.2h0M133.7 449.3h0M102.0 445.3h0M94.1 443.2h0M122.8 452.4h0M135.5 454.3h0M135.4 449.4h0M98.4 447.6h0M86.6 436.1h0M110.5 443.4h0M125.4 449.9h0M132.7 456.5h0M113.1 449.9h0M118.3 449.4h0M91.6 437.7h0M91.5 441.9h0M89.0 437.1h0M101.4 441.5h0M104.6 450.8h0M131.2 453.3h0M132.9 445.7h0M92.0 431.9h0M102.0 447.0h0M90.4 438.3h0M106.1 445.8h0M92.4 443.4h0M91.9 434.1h0M112.7 444.1h0M111.9 447.0h0M135.4 452.9h0M122.2 447.1h0M103.9 441.9h0M107.0 443.8h0M93.0 432.5h0M106.9 449.4h0M93.4 435.9h0M117.0 450.1h0M121.6 450.6h0M125.9 447.3h0M104.0 445.3h0M132.6 448.6h0M111.3 449.5h0M118.6 446.2h0M118.2 448.1h0M86.9 435.4h0M114.4 447.0h0M107.3 448.5h0M111.3 445.2h0M109.4 449.9h0M115.3 444.2h0M99.4 443.3h0M133.1 453.9h0M113.6 445.1h0M95.6 439.2h0M128.4 453.4h0M88.9 432.8h0M98.0 436.4h0M98.3 443.9h0M105.3 447.3h0M96.4 440.5h0M116.1 445.0h0M92.2 439.9h0M112.8 451.2h0M108.2 441.1h0M124.6 449.4h0M126.6 448.1h0M130.5 452.0h0M98.6 441.5h0M110.4 446.8h0M118.4 451.4h0M120.1 447.0h0M93.4 440.7h0M107.1 452.4h0M121.2 446.3h0M114.8 452.2h0" stroke="#000090" stroke-width="4.5" stroke-linecap="round" fill="none"/>
<path d="M108.3 444.7h0M99.1 446.2h0M116.8 443.5h0M127.7 452.1h0M102.5 443.7h0M96.0 444.8h0M97.0 438.4h0M131.1 450.5h0M90.0 435.6h0M114.1 453.5h0M87.8 438.3h0M99.9 438.9h0M107.0 440.8h0M109.3 451.6h0M125.9 452.1h0M128.2 449.4h0M138.3 448.2h0M132.1 446.0h0M120.8 452.2h0M96.1 437.0h0M85.8 438.5h0M125.9 453.8h0M104.6 443.5h0M100.1 446.9h0M131.7 451.2h0M133.7 449.3h0M102.0 445.3h0M94.1 443.2h0M122.8 452.4h0M135.5 454.3h0M135.4 449.4h0M98.4 447.6h0M86.6 436.1h0M110.5 443.4h0M125.4 449.9h0M132.7 456.5h0M113.1 449.9h0M118.3 449.4h0M91.6 437.7h0M91.5 441.9h0M89.0 437.1h0M101.4 441.5h0M104.6 450.8h0M131.2 453.3h0M132.9 445.7h0M92.0 431.9h0M102.0 447.0h0M90.4 438.3h0M106.1 445.8h0M92.4 443.4h0M91.9 434.1h0M112.7 444.1h0M111.9 447.0h0M135.4 452.9h0M122.2 447.1h0M103.9 441.9h0M107.0 443.8h0M93.0 432.5h0M106.9 449.4h0M93.4 435.9h0M117.0 450.1h0M121.6 450.6h0M125.9 447.3h0M104.0 445.3h0M132.6 448.6h0M111.3 449.5h0M118.6 446.2h0M118.2 448.1h0M86.9 435.4h0M114.4 447.0h0M107.3 448.5h0M111.3 445.2h0M109.4 449.9h0M115.3 444.2h0M99.4 443.3h0M133.1 453.9h0M113.6 445.1h0M95.6 439.2h0M128.4 453.4h0M88.9 432.8h0M98.0 436.4h0M98.3 443.9h0M105.3 447.3h0M96.4 440.5h0M116.1 445.0h0M92.2 439.9h0M112.8 451.2h0M108.2 441.1h0M124.6 449.4h0M126.6 448.1h0M130.5 452.0h0M98.6 441.5h0M110.4 446.8h0M118.4 451.4h0M120.1 447.0h0M93.4 440.7h0M107.1 452.4h0M121.2 446.3h0M114.8 452.2h0" stroke="#0606e8" stroke-width="2.8" stroke-linecap="round" fill="none"/>
<path d="M108.1 444.4h0M98.9 446.0h0M116.6 443.3h0M127.5 451.9h0M102.3 443.4h0M95.8 444.5h0M96.8 438.1h0M130.9 450.3h0M89.8 435.3h0M113.9 453.3h0M87.6 438.1h0M99.7 438.6h0M106.8 440.5h0M109.1 451.4h0M125.7 451.9h0M128.0 449.1h0M138.1 448.0h0M131.9 445.7h0M120.6 452.0h0M95.9 436.7h0M85.6 438.3h0M125.7 453.6h0M104.4 443.2h0M99.9 446.7h0M131.5 451.0h0M133.5 449.1h0M101.8 445.0h0M93.9 443.0h0M122.6 452.2h0M135.3 454.0h0M135.2 449.1h0M98.2 447.3h0M86.4 435.9h0M110.3 443.2h0M125.2 449.6h0M132.5 456.3h0M112.9 449.7h0M118.1 449.1h0M91.4 437.4h0M91.3 441.6h0M88.8 436.9h0M101.2 441.3h0M104.4 450.5h0M131.0 453.1h0M132.7 445.5h0M91.8 431.6h0M101.8 446.8h0M90.2 438.1h0M105.9 445.5h0M92.2 443.1h0M91.7 433.8h0M112.5 443.9h0M111.7 446.8h0M135.2 452.6h0M122.0 446.8h0M103.7 441.6h0M106.8 443.5h0M92.8 432.3h0M106.7 449.1h0M93.2 435.6h0M116.8 449.8h0M121.4 450.3h0M125.7 447.0h0M103.8 445.0h0M132.4 448.4h0M111.1 449.2h0M118.4 445.9h0M118.0 447.9h0M86.7 435.1h0M114.2 446.7h0M107.1 448.2h0M111.1 444.9h0M109.2 449.7h0M115.1 444.0h0M99.2 443.0h0M132.9 453.6h0M113.4 444.9h0M95.4 438.9h0M128.2 453.2h0M88.7 432.5h0M97.8 436.1h0M98.1 443.7h0M105.1 447.1h0M96.2 440.2h0M115.9 444.7h0M92.0 439.7h0M112.6 450.9h0M108.0 440.9h0M124.4 449.1h0M126.4 447.8h0M130.3 451.8h0M98.4 441.3h0M110.2 446.5h0M118.2 451.2h0M119.9 446.8h0M93.2 440.5h0M106.9 452.2h0M121.0 446.1h0M114.6 451.9h0" stroke="#3434ff" stroke-width="1.45" stroke-linecap="round" fill="none"/>
<path d="M159.0 428.0h0M158.8 449.6h0M144.8 450.3h0M163.7 447.9h0M155.9 431.1h0M164.9 438.4h0M157.4 448.4h0M157.3 451.3h0M168.7 440.0h0M166.1 431.6h0M164.6 446.9h0M142.0 449.7h0M161.2 444.1h0M167.5 433.7h0M139.0 448.4h0M170.0 441.0h0M157.6 429.3h0M148.9 448.0h0M155.9 448.6h0M136.3 452.0h0M139.3 454.1h0M144.6 447.0h0M167.7 441.3h0M152.6 448.2h0M161.1 445.3h0M136.5 449.1h0M137.0 454.0h0M145.3 447.5h0M149.9 448.1h0M165.3 442.5h0M165.2 440.2h0M157.8 445.8h0M160.0 446.2h0M163.5 436.1h0M168.8 435.5h0M152.6 450.3h0M137.8 452.0h0M133.4 453.2h0M140.6 451.8h0M167.3 430.4h0M168.5 432.3h0M169.2 436.5h0M154.2 445.9h0M150.2 451.2h0M158.2 427.1h0M166.0 446.5h0M162.4 430.4h0M148.9 453.3h0M162.3 429.2h0M159.8 448.2h0M146.0 449.8h0M161.3 427.3h0M135.3 450.9h0M143.8 453.0h0M158.5 443.7h0M155.3 449.9h0M163.0 444.0h0M136.4 449.9h0M162.2 442.6h0M171.6 437.2h0M151.0 446.1h0M163.6 433.5h0M134.4 454.2h0M166.8 438.2h0M165.2 443.6h0M160.3 430.0h0M166.0 434.4h0M162.5 433.2h0M139.4 450.1h0M143.9 447.5h0M170.8 440.3h0M163.6 426.9h0M163.6 429.6h0M146.2 452.7h0" stroke="#000090" stroke-width="4.5" stroke-linecap="round" fill="none"/>
<path d="M159.0 428.0h0M158.8 449.6h0M144.8 450.3h0M163.7 447.9h0M155.9 431.1h0M164.9 438.4h0M157.4 448.4h0M157.3 451.3h0M168.7 440.0h0M166.1 431.6h0M164.6 446.9h0M142.0 449.7h0M161.2 444.1h0M167.5 433.7h0M139.0 448.4h0M170.0 441.0h0M157.6 429.3h0M148.9 448.0h0M155.9 448.6h0M136.3 452.0h0M139.3 454.1h0M144.6 447.0h0M167.7 441.3h0M152.6 448.2h0M161.1 445.3h0M136.5 449.1h0M137.0 454.0h0M145.3 447.5h0M149.9 448.1h0M165.3 442.5h0M165.2 440.2h0M157.8 445.8h0M160.0 446.2h0M163.5 436.1h0M168.8 435.5h0M152.6 450.3h0M137.8 452.0h0M133.4 453.2h0M140.6 451.8h0M167.3 430.4h0M168.5 432.3h0M169.2 436.5h0M154.2 445.9h0M150.2 451.2h0M158.2 427.1h0M166.0 446.5h0M162.4 430.4h0M148.9 453.3h0M162.3 429.2h0M159.8 448.2h0M146.0 449.8h0M161.3 427.3h0M135.3 450.9h0M143.8 453.0h0M158.5 443.7h0M155.3 449.9h0M163.0 444.0h0M136.4 449.9h0M162.2 442.6h0M171.6 437.2h0M151.0 446.1h0M163.6 433.5h0M134.4 454.2h0M166.8 438.2h0M165.2 443.6h0M160.3 430.0h0M166.0 434.4h0M162.5 433.2h0M139.4 450.1h0M143.9 447.5h0M170.8 440.3h0M163.6 426.9h0M163.6 429.6h0M146.2 452.7h0" stroke="#0606e8" stroke-width="2.8" stroke-linecap="round" fill="none"/>
<path d="M158.8 427.7h0M158.6 449.3h0M144.6 450.1h0M163.5 447.6h0M155.7 430.9h0M164.7 438.1h0M157.2 448.1h0M157.1 451.1h0M168.5 439.8h0M165.9 431.3h0M164.4 446.6h0M141.8 449.5h0M161.0 443.9h0M167.3 433.5h0M138.8 448.2h0M169.8 440.8h0M157.4 429.0h0M148.7 447.8h0M155.7 448.4h0M136.1 451.7h0M139.1 453.8h0M144.4 446.8h0M167.5 441.1h0M152.4 447.9h0M160.9 445.0h0M136.3 448.9h0M136.8 453.8h0M145.1 447.2h0M149.7 447.8h0M165.1 442.3h0M165.0 440.0h0M157.6 445.5h0M159.8 446.0h0M163.3 435.8h0M168.6 435.2h0M152.4 450.0h0M137.6 451.7h0M133.2 453.0h0M140.4 451.5h0M167.1 430.2h0M168.3 432.0h0M169.0 436.3h0M154.0 445.6h0M150.0 450.9h0M158.0 426.9h0M165.8 446.3h0M162.2 430.1h0M148.7 453.1h0M162.1 428.9h0M159.6 448.0h0M145.8 449.5h0M161.1 427.1h0M135.1 450.6h0M143.6 452.8h0M158.3 443.4h0M155.1 449.6h0M162.8 443.8h0M136.2 449.7h0M162.0 442.3h0M171.4 436.9h0M150.8 445.9h0M163.4 433.3h0M134.2 453.9h0M166.6 438.0h0M165.0 443.3h0M160.1 429.8h0M165.8 434.1h0M162.3 433.0h0M139.2 449.8h0M143.7 447.3h0M170.6 440.1h0M163.4 426.7h0M163.4 429.3h0M146.0 452.4h0" stroke="#3434ff" stroke-width="1.45" stroke-linecap="round" fill="none"/>
<path d="M155.7 424.6h0M149.0 422.3h0M152.7 429.9h0M145.1 420.6h0M148.5 420.9h0M149.0 427.7h0M150.3 425.3h0M144.7 425.4h0M156.6 428.2h0M156.0 432.1h0M155.0 428.2h0M150.6 430.0h0M148.0 425.4h0M153.6 422.5h0M153.6 418.9h0M155.5 429.7h0M144.9 422.6h0M142.2 419.2h0M152.5 425.1h0M142.3 419.9h0M152.1 422.2h0M146.7 423.0h0M146.2 427.1h0M152.0 426.7h0M153.0 421.1h0" stroke="#000000" stroke-width="4.5" stroke-linecap="round" fill="none"/>
<path d="M155.7 424.6h0M149.0 422.3h0M152.7 429.9h0M145.1 420.6h0M148.5 420.9h0M149.0 427.7h0M150.3 425.3h0M144.7 425.4h0M156.6 428.2h0M156.0 432.1h0M155.0 428.2h0M150.6 430.0h0M148.0 425.4h0M153.6 422.5h0M153.6 418.9h0M155.5 429.7h0M144.9 422.6h0M142.2 419.2h0M152.5 425.1h0M142.3 419.9h0M152.1 422.2h0M146.7 423.0h0M146.2 427.1h0M152.0 426.7h0M153.0 421.1h0" stroke="#080808" stroke-width="2.8" stroke-linecap="round" fill="none"/>
<path d="M155.5 424.3h0M148.8 422.1h0M152.5 429.7h0M144.9 420.4h0M148.3 420.6h0M148.8 427.5h0M150.1 425.1h0M144.5 425.1h0M156.4 428.0h0M155.8 431.8h0M154.8 428.0h0M150.4 429.8h0M147.8 425.1h0M153.4 422.3h0M153.4 418.6h0M155.3 429.5h0M144.7 422.3h0M142.0 419.0h0M152.3 424.8h0M142.1 419.6h0M151.9 421.9h0M146.5 422.7h0M146.0 426.8h0M151.8 426.5h0M152.8 420.9h0" stroke="#3a3a3a" stroke-width="1.45" stroke-linecap="round" fill="none"/>
<circle cx="142.6" cy="430.2" r="1.3" fill="#ff8a10"/>
<path d="M84.3 455.5h0M69.3 455.9h0M79.3 452.5h0M75.6 456.1h0M72.6 461.1h0M69.4 458.0h0M80.2 458.4h0M77.7 457.4h0M72.8 464.9h0M64.3 462.6h0M76.8 452.5h0M76.8 464.4h0M82.9 457.9h0M71.3 463.5h0M83.1 453.9h0M76.7 456.1h0M82.4 455.3h0M74.0 464.8h0M77.6 453.3h0M79.0 460.5h0M72.2 455.4h0M84.9 451.8h0M76.0 454.6h0M80.6 464.8h0M68.0 456.5h0M71.9 458.2h0M73.5 457.7h0M86.5 458.2h0M69.6 460.5h0M77.8 459.7h0M80.1 462.6h0M80.1 453.1h0M71.3 466.1h0M68.2 460.7h0M68.3 461.9h0M70.1 464.7h0M67.4 464.7h0M84.3 461.3h0M76.0 462.4h0M73.9 462.3h0M86.4 462.2h0M83.5 462.0h0M75.3 460.0h0M81.7 460.6h0M87.1 461.1h0M78.3 463.2h0M66.5 462.6h0M75.2 458.6h0M80.3 455.7h0" stroke="#17461a" stroke-width="4.5" stroke-linecap="round" fill="none"/>
<path d="M84.3 455.5h0M69.3 455.9h0M79.3 452.5h0M75.6 456.1h0M72.6 461.1h0M69.4 458.0h0M80.2 458.4h0M77.7 457.4h0M72.8 464.9h0M64.3 462.6h0M76.8 452.5h0M76.8 464.4h0M82.9 457.9h0M71.3 463.5h0M83.1 453.9h0M76.7 456.1h0M82.4 455.3h0M74.0 464.8h0M77.6 453.3h0M79.0 460.5h0M72.2 455.4h0M84.9 451.8h0M76.0 454.6h0M80.6 464.8h0M68.0 456.5h0M71.9 458.2h0M73.5 457.7h0M86.5 458.2h0M69.6 460.5h0M77.8 459.7h0M80.1 462.6h0M80.1 453.1h0M71.3 466.1h0M68.2 460.7h0M68.3 461.9h0M70.1 464.7h0M67.4 464.7h0M84.3 461.3h0M76.0 462.4h0M73.9 462.3h0M86.4 462.2h0M83.5 462.0h0M75.3 460.0h0M81.7 460.6h0M87.1 461.1h0M78.3 463.2h0M66.5 462.6h0M75.2 458.6h0M80.3 455.7h0" stroke="#2c7830" stroke-width="2.8" stroke-linecap="round" fill="none"/>
<path d="M84.1 455.3h0M69.1 455.6h0M79.1 452.2h0M75.4 455.8h0M72.4 460.9h0M69.2 457.7h0M80.0 458.1h0M77.5 457.2h0M72.6 464.7h0M64.1 462.3h0M76.6 452.2h0M76.6 464.2h0M82.7 457.6h0M71.1 463.2h0M82.9 453.7h0M76.5 455.9h0M82.2 455.1h0M73.8 464.6h0M77.4 453.1h0M78.8 460.2h0M72.0 455.1h0M84.7 451.6h0M75.8 454.4h0M80.4 464.5h0M67.8 456.2h0M71.7 458.0h0M73.3 457.4h0M86.3 457.9h0M69.4 460.3h0M77.6 459.5h0M79.9 462.4h0M79.9 452.9h0M71.1 465.9h0M68.0 460.5h0M68.1 461.7h0M69.9 464.4h0M67.2 464.4h0M84.1 461.1h0M75.8 462.1h0M73.7 462.1h0M86.2 461.9h0M83.3 461.7h0M75.1 459.7h0M81.5 460.3h0M86.9 460.8h0M78.1 462.9h0M66.3 462.4h0M75.0 458.3h0M80.1 455.4h0" stroke="#4a964e" stroke-width="1.45" stroke-linecap="round" fill="none"/>
<path d="M67.7 487.4h0M63.4 470.6h0M55.4 485.8h0M65.4 482.8h0M63.8 491.4h0M54.2 471.9h0M53.2 471.2h0M65.0 480.4h0M63.3 482.7h0M70.6 492.5h0M65.2 465.8h0M55.6 479.3h0M53.2 479.3h0M60.7 479.0h0M61.5 488.4h0M62.6 471.8h0M72.4 490.4h0M63.0 465.7h0M53.1 475.3h0M58.7 472.5h0M55.1 474.5h0M67.8 491.6h0M57.7 484.2h0M65.2 490.4h0M55.2 468.9h0M68.8 497.0h0M62.7 460.1h0M62.6 490.2h0M57.9 468.0h0M61.7 476.6h0M64.0 459.4h0M62.8 481.2h0M57.0 480.7h0M60.4 459.8h0M64.8 467.2h0M58.4 474.0h0M57.0 463.7h0M61.8 467.8h0M67.1 490.8h0M60.2 483.4h0M56.2 465.3h0M69.0 486.1h0M64.0 493.3h0M72.3 494.3h0M58.0 490.7h0M58.8 465.3h0M58.0 471.2h0M56.7 471.7h0M63.0 461.7h0M58.8 461.7h0M56.5 483.6h0M67.0 493.4h0M59.7 481.6h0M60.1 485.2h0M73.4 491.7h0M60.1 476.9h0M55.1 480.3h0M56.5 487.9h0M68.7 494.4h0M63.7 487.1h0M55.8 469.9h0M61.6 461.0h0M59.7 489.1h0M52.8 468.5h0M69.5 489.8h0M66.4 486.0h0M70.9 497.2h0M59.3 463.9h0M57.8 486.9h0M60.6 465.7h0M53.9 477.3h0M74.8 490.7h0M62.5 478.5h0M66.3 486.8h0M59.8 467.3h0M61.3 486.0h0M63.9 462.9h0M66.2 491.9h0M65.3 496.6h0M67.1 464.2h0M57.8 479.0h0M66.3 459.2h0M60.0 475.5h0M61.7 494.8h0M66.0 462.5h0M65.1 485.7h0M57.1 476.4h0M61.4 463.3h0M57.0 486.0h0M60.6 469.8h0" stroke="#009090" stroke-width="4.5" stroke-linecap="round" fill="none"/>
<path d="M67.7 487.4h0M63.4 470.6h0M55.4 485.8h0M65.4 482.8h0M63.8 491.4h0M54.2 471.9h0M53.2 471.2h0M65.0 480.4h0M63.3 482.7h0M70.6 492.5h0M65.2 465.8h0M55.6 479.3h0M53.2 479.3h0M60.7 479.0h0M61.5 488.4h0M62.6 471.8h0M72.4 490.4h0M63.0 465.7h0M53.1 475.3h0M58.7 472.5h0M55.1 474.5h0M67.8 491.6h0M57.7 484.2h0M65.2 490.4h0M55.2 468.9h0M68.8 497.0h0M62.7 460.1h0M62.6 490.2h0M57.9 468.0h0M61.7 476.6h0M64.0 459.4h0M62.8 481.2h0M57.0 480.7h0M60.4 459.8h0M64.8 467.2h0M58.4 474.0h0M57.0 463.7h0M61.8 467.8h0M67.1 490.8h0M60.2 483.4h0M56.2 465.3h0M69.0 486.1h0M64.0 493.3h0M72.3 494.3h0M58.0 490.7h0M58.8 465.3h0M58.0 471.2h0M56.7 471.7h0M63.0 461.7h0M58.8 461.7h0M56.5 483.6h0M67.0 493.4h0M59.7 481.6h0M60.1 485.2h0M73.4 491.7h0M60.1 476.9h0M55.1 480.3h0M56.5 487.9h0M68.7 494.4h0M63.7 487.1h0M55.8 469.9h0M61.6 461.0h0M59.7 489.1h0M52.8 468.5h0M69.5 489.8h0M66.4 486.0h0M70.9 497.2h0M59.3 463.9h0M57.8 486.9h0M60.6 465.7h0M53.9 477.3h0M74.8 490.7h0M62.5 478.5h0M66.3 486.8h0M59.8 467.3h0M61.3 486.0h0M63.9 462.9h0M66.2 491.9h0M65.3 496.6h0M67.1 464.2h0M57.8 479.0h0M66.3 459.2h0M60.0 475.5h0M61.7 494.8h0M66.0 462.5h0M65.1 485.7h0M57.1 476.4h0M61.4 463.3h0M57.0 486.0h0M60.6 469.8h0" stroke="#0cdcdc" stroke-width="2.8" stroke-linecap="round" fill="none"/>
<path d="M67.5 487.1h0M63.2 470.4h0M55.2 485.6h0M65.2 482.5h0M63.6 491.2h0M54.0 471.6h0M53.0 470.9h0M64.8 480.1h0M63.1 482.5h0M70.4 492.2h0M65.0 465.5h0M55.4 479.0h0M53.0 479.0h0M60.5 478.8h0M61.3 488.1h0M62.4 471.6h0M72.2 490.2h0M62.8 465.4h0M52.9 475.0h0M58.5 472.3h0M54.9 474.3h0M67.6 491.4h0M57.5 484.0h0M65.0 490.1h0M55.0 468.7h0M68.6 496.7h0M62.5 459.8h0M62.4 489.9h0M57.7 467.7h0M61.5 476.4h0M63.8 459.2h0M62.6 480.9h0M56.8 480.5h0M60.2 459.5h0M64.6 466.9h0M58.2 473.7h0M56.8 463.5h0M61.6 467.5h0M66.9 490.5h0M60.0 483.1h0M56.0 465.1h0M68.8 485.8h0M63.8 493.1h0M72.1 494.1h0M57.8 490.4h0M58.6 465.0h0M57.8 470.9h0M56.5 471.5h0M62.8 461.4h0M58.6 461.5h0M56.3 483.4h0M66.8 493.1h0M59.5 481.4h0M59.9 484.9h0M73.2 491.5h0M59.9 476.6h0M54.9 480.0h0M56.3 487.7h0M68.5 494.2h0M63.5 486.9h0M55.6 469.6h0M61.4 460.7h0M59.5 488.8h0M52.6 468.3h0M69.3 489.5h0M66.2 485.7h0M70.7 496.9h0M59.1 463.7h0M57.6 486.7h0M60.4 465.5h0M53.7 477.1h0M74.6 490.5h0M62.3 478.3h0M66.1 486.5h0M59.6 467.1h0M61.1 485.7h0M63.7 462.6h0M66.0 491.7h0M65.1 496.3h0M66.9 464.0h0M57.6 478.7h0M66.1 458.9h0M59.8 475.2h0M61.5 494.6h0M65.8 462.2h0M64.9 485.5h0M56.9 476.2h0M61.2 463.1h0M56.8 485.7h0M60.4 469.6h0" stroke="#48ffff" stroke-width="1.45" stroke-linecap="round" fill="none"/>
<path d="M65.3 495.5h0M69.3 497.6h0M68.0 493.2h0M67.1 498.0h0M71.6 496.2h0M68.9 496.8h0M70.9 499.6h0M65.0 493.6h0M72.2 498.3h0" stroke="#9c149c" stroke-width="4.5" stroke-linecap="round" fill="none"/>
<path d="M65.3 495.5h0M69.3 497.6h0M68.0 493.2h0M67.1 498.0h0M71.6 496.2h0M68.9 496.8h0M70.9 499.6h0M65.0 493.6h0M72.2 498.3h0" stroke="#ea38ea" stroke-width="2.8" stroke-linecap="round" fill="none"/>
<path d="M65.1 495.2h0M69.1 497.4h0M67.8 493.0h0M66.9 497.7h0M71.4 495.9h0M68.7 496.5h0M70.7 499.3h0M64.8 493.4h0M72.0 498.1h0" stroke="#ff6cff" stroke-width="1.45" stroke-linecap="round" fill="none"/>
<path d="M68.6 497.4h0M82.5 510.0h0M91.0 509.6h0M69.8 499.2h0M72.2 503.3h0M69.6 501.9h0M88.2 509.9h0M76.5 504.6h0M73.4 506.4h0M76.2 506.2h0M79.4 510.2h0M81.6 504.9h0M83.7 512.3h0M80.7 506.8h0M74.8 500.5h0M93.4 506.5h0M87.0 508.4h0M95.9 504.8h0M96.8 508.6h0M85.9 510.9h0M74.8 501.9h0M91.1 505.3h0M85.6 505.7h0M91.9 509.6h0M78.2 509.1h0M95.1 506.3h0M73.4 501.5h0M83.4 505.5h0M81.5 508.2h0M95.4 510.3h0M78.1 505.6h0M74.8 504.0h0M93.7 508.3h0M72.2 499.6h0M71.4 496.1h0M70.0 497.5h0M79.8 504.7h0M88.2 512.0h0M78.3 501.4h0M91.2 504.4h0M84.7 508.2h0M67.4 501.2h0M90.6 507.5h0M87.2 507.1h0M72.3 496.6h0M88.5 508.9h0" stroke="#880840" stroke-width="4.5" stroke-linecap="round" fill="none"/>
<path d="M68.6 497.4h0M82.5 510.0h0M91.0 509.6h0M69.8 499.2h0M72.2 503.3h0M69.6 501.9h0M88.2 509.9h0M76.5 504.6h0M73.4 506.4h0M76.2 506.2h0M79.4 510.2h0M81.6 504.9h0M83.7 512.3h0M80.7 506.8h0M74.8 500.5h0M93.4 506.5h0M87.0 508.4h0M95.9 504.8h0M96.8 508.6h0M85.9 510.9h0M74.8 501.9h0M91.1 505.3h0M85.6 505.7h0M91.9 509.6h0M78.2 509.1h0M95.1 506.3h0M73.4 501.5h0M83.4 505.5h0M81.5 508.2h0M95.4 510.3h0M78.1 505.6h0M74.8 504.0h0M93.7 508.3h0M72.2 499.6h0M71.4 496.1h0M70.0 497.5h0M79.8 504.7h0M88.2 512.0h0M78.3 501.4h0M91.2 504.4h0M84.7 508.2h0M67.4 501.2h0M90.6 507.5h0M87.2 507.1h0M72.3 496.6h0M88.5 508.9h0" stroke="#d41464" stroke-width="2.8" stroke-linecap="round" fill="none"/>
<path d="M68.4 497.1h0M82.3 509.7h0M90.8 509.3h0M69.6 498.9h0M72.0 503.1h0M69.4 501.6h0M88.0 509.6h0M76.3 504.3h0M73.2 506.1h0M76.0 506.0h0M79.2 510.0h0M81.4 504.7h0M83.5 512.1h0M80.5 506.6h0M74.6 500.2h0M93.2 506.2h0M86.8 508.1h0M95.7 504.6h0M96.6 508.3h0M85.7 510.6h0M74.6 501.6h0M90.9 505.0h0M85.4 505.4h0M91.7 509.3h0M78.0 508.9h0M94.9 506.1h0M73.2 501.2h0M83.2 505.3h0M81.3 508.0h0M95.2 510.0h0M77.9 505.3h0M74.6 503.8h0M93.5 508.1h0M72.0 499.3h0M71.2 495.8h0M69.8 497.3h0M79.6 504.4h0M88.0 511.7h0M78.1 501.2h0M91.0 504.1h0M84.5 507.9h0M67.2 500.9h0M90.4 507.2h0M87.0 506.9h0M72.1 496.4h0M88.3 508.6h0" stroke="#f03c8c" stroke-width="1.45" stroke-linecap="round" fill="none"/>
<path d="M86.4 484.6h0M89.1 477.8h0M82.3 492.2h0M100.6 478.7h0M103.9 497.9h0M102.3 504.4h0M86.6 487.6h0M101.1 493.4h0M104.8 486.6h0M112.1 490.4h0M88.7 476.0h0M107.6 488.6h0M108.0 491.7h0M98.0 499.3h0M95.8 484.9h0M95.0 494.7h0M103.2 502.5h0M90.2 491.4h0M98.3 492.6h0M96.0 501.2h0M94.1 494.1h0M90.1 504.0h0M95.7 497.7h0M86.9 490.3h0M84.7 483.1h0M111.2 498.1h0M106.8 487.5h0M104.1 494.0h0M109.4 493.1h0M100.2 482.6h0M91.4 485.1h0M92.6 497.1h0M97.1 490.3h0M91.4 479.5h0M100.4 480.1h0M106.4 492.6h0M101.7 485.6h0M91.6 489.6h0M110.4 494.7h0M86.1 497.7h0M95.2 492.1h0M87.8 481.7h0M102.5 496.1h0M110.5 487.5h0M91.6 477.4h0M104.3 504.3h0M97.1 495.6h0M96.1 493.9h0M106.8 484.4h0M86.9 480.0h0M93.0 482.1h0M102.9 486.2h0M97.6 482.0h0M89.2 501.6h0M99.5 500.4h0M91.6 504.5h0M93.1 486.0h0M84.4 489.2h0M88.1 484.9h0M85.4 488.9h0M105.4 500.6h0M102.7 484.9h0M93.4 502.0h0M105.6 494.8h0M85.1 487.7h0M94.0 481.1h0M90.6 495.5h0M95.1 486.0h0M81.7 489.0h0M109.2 500.0h0M90.2 482.5h0M98.2 485.4h0M104.7 491.1h0M102.4 500.7h0M97.8 478.3h0M87.9 479.1h0M93.7 483.9h0M95.3 479.6h0M106.5 489.1h0M99.0 501.9h0M95.1 489.5h0M104.5 483.0h0M87.0 499.8h0M94.7 499.8h0M94.4 477.7h0M100.3 497.2h0M89.0 488.2h0M90.1 493.8h0M84.0 491.3h0M105.8 497.6h0M93.9 483.3h0M90.4 501.7h0M97.3 487.7h0M85.4 493.6h0M101.7 481.9h0M88.8 499.4h0M93.1 495.6h0M94.7 504.7h0M89.3 486.6h0M90.9 496.9h0M102.7 490.8h0M100.7 501.3h0M93.0 500.1h0M99.2 479.5h0M99.6 494.8h0M108.8 497.0h0M89.1 497.4h0M88.3 481.2h0M94.1 489.0h0M111.5 489.0h0M92.5 490.3h0M97.1 503.3h0M99.9 487.3h0M97.7 489.1h0M88.2 495.3h0M110.6 492.0h0M99.2 491.5h0M107.5 495.8h0M100.1 488.1h0M103.0 489.3h0M82.8 487.2h0M97.8 498.0h0M87.8 494.1h0" stroke="#9c149c" stroke-width="4.5" stroke-linecap="round" fill="none"/>
<path d="M86.4 484.6h0M89.1 477.8h0M82.3 492.2h0M100.6 478.7h0M103.9 497.9h0M102.3 504.4h0M86.6 487.6h0M101.1 493.4h0M104.8 486.6h0M112.1 490.4h0M88.7 476.0h0M107.6 488.6h0M108.0 491.7h0M98.0 499.3h0M95.8 484.9h0M95.0 494.7h0M103.2 502.5h0M90.2 491.4h0M98.3 492.6h0M96.0 501.2h0M94.1 494.1h0M90.1 504.0h0M95.7 497.7h0M86.9 490.3h0M84.7 483.1h0M111.2 498.1h0M106.8 487.5h0M104.1 494.0h0M109.4 493.1h0M100.2 482.6h0M91.4 485.1h0M92.6 497.1h0M97.1 490.3h0M91.4 479.5h0M100.4 480.1h0M106.4 492.6h0M101.7 485.6h0M91.6 489.6h0M110.4 494.7h0M86.1 497.7h0M95.2 492.1h0M87.8 481.7h0M102.5 496.1h0M110.5 487.5h0M91.6 477.4h0M104.3 504.3h0M97.1 495.6h0M96.1 493.9h0M106.8 484.4h0M86.9 480.0h0M93.0 482.1h0M102.9 486.2h0M97.6 482.0h0M89.2 501.6h0M99.5 500.4h0M91.6 504.5h0M93.1 486.0h0M84.4 489.2h0M88.1 484.9h0M85.4 488.9h0M105.4 500.6h0M102.7 484.9h0M93.4 502.0h0M105.6 494.8h0M85.1 487.7h0M94.0 481.1h0M90.6 495.5h0M95.1 486.0h0M81.7 489.0h0M109.2 500.0h0M90.2 482.5h0M98.2 485.4h0M104.7 491.1h0M102.4 500.7h0M97.8 478.3h0M87.9 479.1h0M93.7 483.9h0M95.3 479.6h0M106.5 489.1h0M99.0 501.9h0M95.1 489.5h0M104.5 483.0h0M87.0 499.8h0M94.7 499.8h0M94.4 477.7h0M100.3 497.2h0M89.0 488.2h0M90.1 493.8h0M84.0 491.3h0M105.8 497.6h0M93.9 483.3h0M90.4 501.7h0M97.3 487.7h0M85.4 493.6h0M101.7 481.9h0M88.8 499.4h0M93.1 495.6h0M94.7 504.7h0M89.3 486.6h0M90.9 496.9h0M102.7 490.8h0M100.7 501.3h0M93.0 500.1h0M99.2 479.5h0M99.6 494.8h0M108.8 497.0h0M89.1 497.4h0M88.3 481.2h0M94.1 489.0h0M111.5 489.0h0M92.5 490.3h0M97.1 503.3h0M99.9 487.3h0M97.7 489.1h0M88.2 495.3h0M110.6 492.0h0M99.2 491.5h0M107.5 495.8h0M100.1 488.1h0M103.0 489.3h0M82.8 487.2h0M97.8 498.0h0M87.8 494.1h0" stroke="#ea38ea" stroke-width="2.8" stroke-linecap="round" fill="none"/>
<path d="M86.2 484.4h0M88.9 477.6h0M82.1 491.9h0M100.4 478.5h0M103.7 497.6h0M102.1 504.2h0M86.4 487.3h0M100.9 493.1h0M104.6 486.4h0M111.9 490.2h0M88.5 475.8h0M107.4 488.3h0M107.8 491.5h0M97.8 499.0h0M95.6 484.6h0M94.8 494.4h0M103.0 502.3h0M90.0 491.2h0M98.1 492.3h0M95.8 501.0h0M93.9 493.8h0M89.9 503.7h0M95.5 497.4h0M86.7 490.1h0M84.5 482.8h0M111.0 497.8h0M106.6 487.3h0M103.9 493.8h0M109.2 492.8h0M100.0 482.3h0M91.2 484.8h0M92.4 496.9h0M96.9 490.1h0M91.2 479.3h0M100.2 479.8h0M106.2 492.3h0M101.5 485.3h0M91.4 489.4h0M110.2 494.5h0M85.9 497.5h0M95.0 491.9h0M87.6 481.5h0M102.3 495.9h0M110.3 487.3h0M91.4 477.1h0M104.1 504.0h0M96.9 495.4h0M95.9 493.6h0M106.6 484.2h0M86.7 479.8h0M92.8 481.9h0M102.7 485.9h0M97.4 481.8h0M89.0 501.3h0M99.3 500.1h0M91.4 504.2h0M92.9 485.7h0M84.2 489.0h0M87.9 484.7h0M85.2 488.6h0M105.2 500.3h0M102.5 484.6h0M93.2 501.8h0M105.4 494.6h0M84.9 487.4h0M93.8 480.9h0M90.4 495.3h0M94.9 485.7h0M81.5 488.8h0M109.0 499.8h0M90.0 482.3h0M98.0 485.1h0M104.5 490.8h0M102.2 500.4h0M97.6 478.1h0M87.7 478.9h0M93.5 483.7h0M95.1 479.3h0M106.3 488.9h0M98.8 501.7h0M94.9 489.2h0M104.3 482.7h0M86.8 499.6h0M94.5 499.6h0M94.2 477.5h0M100.1 497.0h0M88.8 487.9h0M89.9 493.5h0M83.8 491.1h0M105.6 497.4h0M93.7 483.1h0M90.2 501.5h0M97.1 487.5h0M85.2 493.4h0M101.5 481.6h0M88.6 499.1h0M92.9 495.3h0M94.5 504.4h0M89.1 486.4h0M90.7 496.7h0M102.5 490.6h0M100.5 501.1h0M92.8 499.9h0M99.0 479.2h0M99.4 494.5h0M108.6 496.7h0M88.9 497.2h0M88.1 481.0h0M93.9 488.7h0M111.3 488.7h0M92.3 490.1h0M96.9 503.1h0M99.7 487.0h0M97.5 488.9h0M88.0 495.1h0M110.4 491.7h0M99.0 491.3h0M107.3 495.5h0M99.9 487.9h0M102.8 489.1h0M82.6 486.9h0M97.6 497.7h0M87.6 493.8h0" stroke="#ff6cff" stroke-width="1.45" stroke-linecap="round" fill="none"/>
<path d="M132.2 493.7h0M123.7 496.6h0M118.5 496.9h0M111.2 493.5h0M117.3 494.0h0M117.1 496.1h0M114.8 493.8h0M125.9 496.1h0M131.5 496.2h0M113.1 494.1h0M134.1 496.6h0M120.9 494.6h0M128.9 496.1h0M123.8 493.2h0M114.7 495.9h0M127.8 494.8h0M122.4 496.8h0M125.4 494.2h0M111.7 496.8h0M130.5 494.6h0" stroke="#9c149c" stroke-width="4.5" stroke-linecap="round" fill="none"/>
<path d="M132.2 493.7h0M123.7 496.6h0M118.5 496.9h0M111.2 493.5h0M117.3 494.0h0M117.1 496.1h0M114.8 493.8h0M125.9 496.1h0M131.5 496.2h0M113.1 494.1h0M134.1 496.6h0M120.9 494.6h0M128.9 496.1h0M123.8 493.2h0M114.7 495.9h0M127.8 494.8h0M122.4 496.8h0M125.4 494.2h0M111.7 496.8h0M130.5 494.6h0" stroke="#ea38ea" stroke-width="2.8" stroke-linecap="round" fill="none"/>
<path d="M132.0 493.5h0M123.5 496.4h0M118.3 496.6h0M111.0 493.3h0M117.1 493.8h0M116.9 495.9h0M114.6 493.5h0M125.7 495.8h0M131.3 495.9h0M112.9 493.9h0M133.9 496.3h0M120.7 494.3h0M128.7 495.9h0M123.6 492.9h0M114.5 495.7h0M127.6 494.5h0M122.2 496.6h0M125.2 494.0h0M111.5 496.5h0M130.3 494.4h0" stroke="#ff6cff" stroke-width="1.45" stroke-linecap="round" fill="none"/>
<path d="M92.4 475.6h0M89.6 478.9h0M90.8 477.3h0M88.0 477.8h0M93.9 475.5h0M92.6 478.0h0M95.8 476.9h0" stroke="#9c149c" stroke-width="4.5" stroke-linecap="round" fill="none"/>
<path d="M92.4 475.6h0M89.6 478.9h0M90.8 477.3h0M88.0 477.8h0M93.9 475.5h0M92.6 478.0h0M95.8 476.9h0" stroke="#ea38ea" stroke-width="2.8" stroke-linecap="round" fill="none"/>
<path d="M92.2 475.4h0M89.4 478.7h0M90.6 477.1h0M87.8 477.5h0M93.7 475.2h0M92.4 477.8h0M95.6 476.7h0" stroke="#ff6cff" stroke-width="1.45" stroke-linecap="round" fill="none"/>
<path d="M103.0 487.8h0M100.9 490.0h0M91.0 488.1h0M100.8 493.6h0M92.2 490.5h0M93.1 488.0h0M98.3 486.5h0M88.6 491.1h0M91.1 486.0h0M96.3 490.0h0M95.3 493.2h0M96.3 486.3h0M96.1 488.6h0M98.4 487.9h0M97.1 491.8h0M94.9 486.9h0M92.6 484.7h0M93.1 493.3h0M87.2 489.9h0M90.9 484.7h0M93.4 490.6h0M98.3 490.6h0M99.5 488.3h0" stroke="#000000" stroke-width="4.5" stroke-linecap="round" fill="none"/>
<path d="M103.0 487.8h0M100.9 490.0h0M91.0 488.1h0M100.8 493.6h0M92.2 490.5h0M93.1 488.0h0M98.3 486.5h0M88.6 491.1h0M91.1 486.0h0M96.3 490.0h0M95.3 493.2h0M96.3 486.3h0M96.1 488.6h0M98.4 487.9h0M97.1 491.8h0M94.9 486.9h0M92.6 484.7h0M93.1 493.3h0M87.2 489.9h0M90.9 484.7h0M93.4 490.6h0M98.3 490.6h0M99.5 488.3h0" stroke="#080808" stroke-width="2.8" stroke-linecap="round" fill="none"/>
<path d="M102.8 487.6h0M100.7 489.8h0M90.8 487.9h0M100.6 493.4h0M92.0 490.3h0M92.9 487.7h0M98.1 486.3h0M88.4 490.8h0M90.9 485.8h0M96.1 489.7h0M95.1 493.0h0M96.1 486.0h0M95.9 488.4h0M98.2 487.7h0M96.9 491.5h0M94.7 486.6h0M92.4 484.5h0M92.9 493.0h0M87.0 489.7h0M90.7 484.4h0M93.2 490.3h0M98.1 490.4h0M99.3 488.1h0" stroke="#3a3a3a" stroke-width="1.45" stroke-linecap="round" fill="none"/>
<path d="M279.9 421.2h0M283.4 419.0h0M300.5 418.8h0M288.4 420.2h0M302.2 416.6h0M266.2 439.3h0M297.2 422.2h0M265.4 436.4h0M282.5 422.4h0M284.3 412.3h0M286.2 416.9h0M283.5 420.4h0M269.1 429.9h0M270.2 439.6h0M294.9 416.8h0M289.0 412.6h0M268.0 440.8h0M280.7 419.2h0M277.8 422.1h0M292.3 417.0h0M282.5 424.7h0M294.0 425.0h0M286.4 420.5h0M272.4 421.4h0M269.6 422.2h0M295.1 418.5h0M275.1 424.5h0M289.8 425.2h0M274.3 428.9h0M296.3 416.9h0M284.7 414.6h0M291.9 420.4h0M268.0 443.7h0M267.5 436.0h0M285.0 423.7h0M278.5 425.1h0M301.4 419.8h0M272.1 426.8h0M274.7 420.1h0M272.7 440.0h0M277.5 448.2h0M275.9 446.3h0M267.4 434.6h0M305.9 417.8h0M304.8 420.2h0M272.0 447.1h0M275.4 422.6h0M274.7 448.9h0M291.1 414.3h0M284.8 418.8h0M293.2 414.4h0M274.6 411.1h0M295.9 414.9h0M279.0 412.4h0M291.2 418.2h0M267.2 443.4h0M286.0 411.9h0M282.1 412.7h0M269.8 446.7h0M299.0 417.0h0M287.7 414.3h0M281.5 415.5h0M284.0 416.1h0M276.1 424.7h0M273.1 444.0h0M276.3 415.4h0M276.0 419.2h0M287.4 418.7h0M268.7 443.0h0M281.4 422.6h0M277.3 443.9h0M264.6 438.4h0M278.0 418.0h0M276.8 421.4h0M279.2 417.0h0M295.4 422.4h0M273.9 418.7h0M272.3 423.2h0M303.5 423.6h0M274.6 415.8h0M300.7 423.0h0M291.4 424.7h0M303.5 419.1h0M293.4 422.3h0M297.1 420.4h0M289.9 415.4h0M268.9 439.0h0M282.4 421.6h0M267.7 438.5h0M279.6 414.0h0M283.2 414.9h0M270.9 426.3h0M270.9 429.2h0M289.7 422.5h0M274.4 446.1h0M277.7 413.8h0M268.7 433.1h0M292.3 412.9h0M293.6 419.8h0M276.4 411.3h0M272.0 425.1h0M298.4 419.4h0M299.1 420.9h0M292.4 418.8h0M270.9 445.3h0M271.4 441.5h0M287.2 422.2h0M271.7 437.4h0" stroke="#0c900c" stroke-width="4.5" stroke-linecap="round" fill="none"/>
<path d="M279.9 421.2h0M283.4 419.0h0M300.5 418.8h0M288.4 420.2h0M302.2 416.6h0M266.2 439.3h0M297.2 422.2h0M265.4 436.4h0M282.5 422.4h0M284.3 412.3h0M286.2 416.9h0M283.5 420.4h0M269.1 429.9h0M270.2 439.6h0M294.9 416.8h0M289.0 412.6h0M268.0 440.8h0M280.7 419.2h0M277.8 422.1h0M292.3 417.0h0M282.5 424.7h0M294.0 425.0h0M286.4 420.5h0M272.4 421.4h0M269.6 422.2h0M295.1 418.5h0M275.1 424.5h0M289.8 425.2h0M274.3 428.9h0M296.3 416.9h0M284.7 414.6h0M291.9 420.4h0M268.0 443.7h0M267.5 436.0h0M285.0 423.7h0M278.5 425.1h0M301.4 419.8h0M272.1 426.8h0M274.7 420.1h0M272.7 440.0h0M277.5 448.2h0M275.9 446.3h0M267.4 434.6h0M305.9 417.8h0M304.8 420.2h0M272.0 447.1h0M275.4 422.6h0M274.7 448.9h0M291.1 414.3h0M284.8 418.8h0M293.2 414.4h0M274.6 411.1h0M295.9 414.9h0M279.0 412.4h0M291.2 418.2h0M267.2 443.4h0M286.0 411.9h0M282.1 412.7h0M269.8 446.7h0M299.0 417.0h0M287.7 414.3h0M281.5 415.5h0M284.0 416.1h0M276.1 424.7h0M273.1 444.0h0M276.3 415.4h0M276.0 419.2h0M287.4 418.7h0M268.7 443.0h0M281.4 422.6h0M277.3 443.9h0M264.6 438.4h0M278.0 418.0h0M276.8 421.4h0M279.2 417.0h0M295.4 422.4h0M273.9 418.7h0M272.3 423.2h0M303.5 423.6h0M274.6 415.8h0M300.7 423.0h0M291.4 424.7h0M303.5 419.1h0M293.4 422.3h0M297.1 420.4h0M289.9 415.4h0M268.9 439.0h0M282.4 421.6h0M267.7 438.5h0M279.6 414.0h0M283.2 414.9h0M270.9 426.3h0M270.9 429.2h0M289.7 422.5h0M274.4 446.1h0M277.7 413.8h0M268.7 433.1h0M292.3 412.9h0M293.6 419.8h0M276.4 411.3h0M272.0 425.1h0M298.4 419.4h0M299.1 420.9h0M292.4 418.8h0M270.9 445.3h0M271.4 441.5h0M287.2 422.2h0M271.7 437.4h0" stroke="#1ade1a" stroke-width="2.8" stroke-linecap="round" fill="none"/>
<path d="M279.7 420.9h0M283.2 418.8h0M300.3 418.6h0M288.2 420.0h0M302.0 416.3h0M266.0 439.1h0M297.0 421.9h0M265.2 436.2h0M282.3 422.1h0M284.1 412.1h0M286.0 416.6h0M283.3 420.1h0M268.9 429.7h0M270.0 439.3h0M294.7 416.5h0M288.8 412.3h0M267.8 440.5h0M280.5 418.9h0M277.6 421.9h0M292.1 416.8h0M282.3 424.4h0M293.8 424.7h0M286.2 420.2h0M272.2 421.2h0M269.4 422.0h0M294.9 418.3h0M274.9 424.2h0M289.6 424.9h0M274.1 428.7h0M296.1 416.7h0M284.5 414.3h0M291.7 420.1h0M267.8 443.5h0M267.3 435.7h0M284.8 423.5h0M278.3 424.9h0M301.2 419.6h0M271.9 426.6h0M274.5 419.8h0M272.5 439.8h0M277.3 448.0h0M275.7 446.0h0M267.2 434.4h0M305.7 417.5h0M304.6 419.9h0M271.8 446.9h0M275.2 422.4h0M274.5 448.6h0M290.9 414.0h0M284.6 418.6h0M293.0 414.2h0M274.4 410.9h0M295.7 414.7h0M278.8 412.2h0M291.0 418.0h0M267.0 443.1h0M285.8 411.6h0M281.9 412.4h0M269.6 446.4h0M298.8 416.8h0M287.5 414.1h0M281.3 415.2h0M283.8 415.8h0M275.9 424.5h0M272.9 443.7h0M276.1 415.2h0M275.8 419.0h0M287.2 418.4h0M268.5 442.7h0M281.2 422.3h0M277.1 443.6h0M264.4 438.1h0M277.8 417.7h0M276.6 421.2h0M279.0 416.7h0M295.2 422.1h0M273.7 418.5h0M272.1 423.0h0M303.3 423.3h0M274.4 415.6h0M300.5 422.8h0M291.2 424.5h0M303.3 418.8h0M293.2 422.0h0M296.9 420.2h0M289.7 415.2h0M268.7 438.8h0M282.2 421.3h0M267.5 438.2h0M279.4 413.7h0M283.0 414.7h0M270.7 426.0h0M270.7 428.9h0M289.5 422.2h0M274.2 445.8h0M277.5 413.6h0M268.5 432.9h0M292.1 412.6h0M293.4 419.6h0M276.2 411.1h0M271.8 424.9h0M298.2 419.2h0M298.9 420.7h0M292.2 418.5h0M270.7 445.0h0M271.2 441.2h0M287.0 421.9h0M271.5 437.1h0" stroke="#48ff48" stroke-width="1.45" stroke-linecap="round" fill="none"/>
<path d="M324.7 434.2h0M340.1 452.4h0M329.9 439.8h0M344.1 434.8h0M313.4 427.6h0M328.9 452.2h0M326.9 434.0h0M345.8 439.8h0M332.8 428.3h0M337.3 455.2h0M336.5 430.3h0M335.2 420.7h0M325.1 441.5h0M333.3 444.6h0M330.1 429.5h0M321.3 454.2h0M324.5 454.6h0M324.4 429.2h0M326.8 454.1h0M333.4 449.3h0M323.5 457.1h0M331.2 442.7h0M338.3 439.3h0M327.6 460.2h0M340.1 437.2h0M341.4 439.9h0M330.2 461.3h0M314.3 420.0h0M323.5 439.8h0M341.3 431.7h0M325.1 456.4h0M334.2 438.2h0M317.8 426.4h0M312.3 423.1h0M336.6 444.8h0M317.2 424.6h0M322.4 437.4h0M320.4 454.4h0M333.8 430.5h0M311.4 420.6h0M331.5 422.1h0M332.6 420.9h0M321.4 445.5h0M308.6 424.4h0M336.2 435.5h0M331.5 452.2h0M309.8 427.1h0M336.4 428.1h0M328.0 461.1h0M325.7 440.5h0M345.8 448.9h0M339.6 433.3h0M326.9 450.8h0M307.3 422.5h0M320.4 431.5h0M328.3 422.8h0M332.3 424.1h0M331.6 445.8h0M326.2 448.9h0M334.0 447.1h0M344.5 441.2h0M331.4 449.4h0M332.6 456.5h0M329.3 451.6h0M329.8 430.3h0M336.1 424.7h0M336.4 448.0h0M331.9 436.9h0M324.6 445.8h0M329.3 442.6h0M317.1 429.5h0M339.5 454.7h0M342.4 454.6h0M330.6 436.3h0M332.0 459.2h0M330.3 446.7h0M317.6 434.8h0M333.2 439.9h0M319.4 441.6h0M335.0 424.3h0M323.7 451.3h0M339.3 442.6h0M319.0 422.3h0M327.4 430.7h0M323.4 443.8h0M336.0 458.7h0M323.6 436.2h0M337.8 447.2h0M333.6 436.2h0M330.2 427.2h0M330.3 433.4h0M328.7 449.2h0M317.8 431.3h0M333.9 455.6h0M328.4 458.0h0M346.3 443.6h0M339.0 432.0h0M337.5 450.9h0M338.4 436.3h0M344.0 448.6h0M318.9 446.9h0M337.8 444.4h0M325.0 459.2h0M328.1 426.3h0M341.7 441.2h0M312.3 425.3h0M305.4 422.8h0M318.7 444.2h0M314.2 424.4h0M325.6 436.4h0M345.1 451.3h0M342.6 444.1h0M327.1 446.7h0M336.2 442.5h0M326.3 424.7h0M321.3 447.7h0M327.8 440.8h0M341.7 438.0h0M344.2 455.2h0M320.0 428.1h0M342.3 440.0h0M340.1 447.0h0M307.5 421.1h0M324.8 445.1h0M340.8 444.7h0M335.3 422.0h0M329.0 424.8h0M325.4 431.6h0M338.6 452.9h0M341.1 448.4h0M343.2 452.2h0M329.6 437.5h0M313.5 431.8h0M342.1 434.1h0M328.5 460.1h0M335.2 429.9h0M333.9 459.0h0M341.9 449.9h0M335.4 451.5h0M331.6 458.1h0M312.6 428.4h0M334.9 457.0h0M318.7 424.9h0M315.1 422.0h0M339.4 449.9h0M321.0 452.6h0M321.1 429.0h0M316.0 431.3h0M341.4 447.1h0M327.1 429.6h0M334.7 433.4h0M327.2 438.0h0M320.2 427.4h0M341.3 435.9h0M326.4 442.5h0M323.3 448.5h0M329.5 420.7h0M336.6 439.7h0M332.4 426.4h0M335.5 452.5h0M337.2 432.5h0M330.3 419.0h0M320.4 434.2h0M338.0 447.6h0M317.1 434.2h0M320.2 443.9h0M317.7 446.8h0M334.1 421.7h0M326.6 426.3h0M337.8 437.5h0M334.9 426.4h0M344.8 446.2h0M321.2 440.1h0M328.5 455.1h0M325.0 437.7h0M327.4 435.0h0M324.0 452.8h0M323.8 431.3h0M316.3 426.9h0M332.4 450.5h0M313.9 429.9h0M321.6 433.2h0M307.6 424.4h0M338.3 457.3h0M335.3 441.7h0M322.8 441.6h0M347.4 442.6h0M332.5 452.4h0M331.5 433.6h0M338.5 426.1h0M332.0 454.6h0M311.0 422.8h0M322.1 450.1h0M321.1 436.4h0M329.0 443.9h0M325.4 452.3h0M330.1 443.4h0M325.8 461.5h0" stroke="#9c9410" stroke-width="4.5" stroke-linecap="round" fill="none"/>
<path d="M324.7 434.2h0M340.1 452.4h0M329.9 439.8h0M344.1 434.8h0M313.4 427.6h0M328.9 452.2h0M326.9 434.0h0M345.8 439.8h0M332.8 428.3h0M337.3 455.2h0M336.5 430.3h0M335.2 420.7h0M325.1 441.5h0M333.3 444.6h0M330.1 429.5h0M321.3 454.2h0M324.5 454.6h0M324.4 429.2h0M326.8 454.1h0M333.4 449.3h0M323.5 457.1h0M331.2 442.7h0M338.3 439.3h0M327.6 460.2h0M340.1 437.2h0M341.4 439.9h0M330.2 461.3h0M314.3 420.0h0M323.5 439.8h0M341.3 431.7h0M325.1 456.4h0M334.2 438.2h0M317.8 426.4h0M312.3 423.1h0M336.6 444.8h0M317.2 424.6h0M322.4 437.4h0M320.4 454.4h0M333.8 430.5h0M311.4 420.6h0M331.5 422.1h0M332.6 420.9h0M321.4 445.5h0M308.6 424.4h0M336.2 435.5h0M331.5 452.2h0M309.8 427.1h0M336.4 428.1h0M328.0 461.1h0M325.7 440.5h0M345.8 448.9h0M339.6 433.3h0M326.9 450.8h0M307.3 422.5h0M320.4 431.5h0M328.3 422.8h0M332.3 424.1h0M331.6 445.8h0M326.2 448.9h0M334.0 447.1h0M344.5 441.2h0M331.4 449.4h0M332.6 456.5h0M329.3 451.6h0M329.8 430.3h0M336.1 424.7h0M336.4 448.0h0M331.9 436.9h0M324.6 445.8h0M329.3 442.6h0M317.1 429.5h0M339.5 454.7h0M342.4 454.6h0M330.6 436.3h0M332.0 459.2h0M330.3 446.7h0M317.6 434.8h0M333.2 439.9h0M319.4 441.6h0M335.0 424.3h0M323.7 451.3h0M339.3 442.6h0M319.0 422.3h0M327.4 430.7h0M323.4 443.8h0M336.0 458.7h0M323.6 436.2h0M337.8 447.2h0M333.6 436.2h0M330.2 427.2h0M330.3 433.4h0M328.7 449.2h0M317.8 431.3h0M333.9 455.6h0M328.4 458.0h0M346.3 443.6h0M339.0 432.0h0M337.5 450.9h0M338.4 436.3h0M344.0 448.6h0M318.9 446.9h0M337.8 444.4h0M325.0 459.2h0M328.1 426.3h0M341.7 441.2h0M312.3 425.3h0M305.4 422.8h0M318.7 444.2h0M314.2 424.4h0M325.6 436.4h0M345.1 451.3h0M342.6 444.1h0M327.1 446.7h0M336.2 442.5h0M326.3 424.7h0M321.3 447.7h0M327.8 440.8h0M341.7 438.0h0M344.2 455.2h0M320.0 428.1h0M342.3 440.0h0M340.1 447.0h0M307.5 421.1h0M324.8 445.1h0M340.8 444.7h0M335.3 422.0h0M329.0 424.8h0M325.4 431.6h0M338.6 452.9h0M341.1 448.4h0M343.2 452.2h0M329.6 437.5h0M313.5 431.8h0M342.1 434.1h0M328.5 460.1h0M335.2 429.9h0M333.9 459.0h0M341.9 449.9h0M335.4 451.5h0M331.6 458.1h0M312.6 428.4h0M334.9 457.0h0M318.7 424.9h0M315.1 422.0h0M339.4 449.9h0M321.0 452.6h0M321.1 429.0h0M316.0 431.3h0M341.4 447.1h0M327.1 429.6h0M334.7 433.4h0M327.2 438.0h0M320.2 427.4h0M341.3 435.9h0M326.4 442.5h0M323.3 448.5h0M329.5 420.7h0M336.6 439.7h0M332.4 426.4h0M335.5 452.5h0M337.2 432.5h0M330.3 419.0h0M320.4 434.2h0M338.0 447.6h0M317.1 434.2h0M320.2 443.9h0M317.7 446.8h0M334.1 421.7h0M326.6 426.3h0M337.8 437.5h0M334.9 426.4h0M344.8 446.2h0M321.2 440.1h0M328.5 455.1h0M325.0 437.7h0M327.4 435.0h0M324.0 452.8h0M323.8 431.3h0M316.3 426.9h0M332.4 450.5h0M313.9 429.9h0M321.6 433.2h0M307.6 424.4h0M338.3 457.3h0M335.3 441.7h0M322.8 441.6h0M347.4 442.6h0M332.5 452.4h0M331.5 433.6h0M338.5 426.1h0M332.0 454.6h0M311.0 422.8h0M322.1 450.1h0M321.1 436.4h0M329.0 443.9h0M325.4 452.3h0M330.1 443.4h0M325.8 461.5h0" stroke="#e8e01e" stroke-width="2.8" stroke-linecap="round" fill="none"/>
<path d="M324.5 433.9h0M339.9 452.1h0M329.7 439.5h0M343.9 434.5h0M313.2 427.4h0M328.7 452.0h0M326.7 433.8h0M345.6 439.5h0M332.6 428.0h0M337.1 454.9h0M336.3 430.1h0M335.0 420.4h0M324.9 441.3h0M333.1 444.4h0M329.9 429.2h0M321.1 453.9h0M324.3 454.4h0M324.2 429.0h0M326.6 453.9h0M333.2 449.1h0M323.3 456.9h0M331.0 442.4h0M338.1 439.0h0M327.4 459.9h0M339.9 437.0h0M341.2 439.7h0M330.0 461.0h0M314.1 419.7h0M323.3 439.6h0M341.1 431.5h0M324.9 456.1h0M334.0 437.9h0M317.6 426.1h0M312.1 422.9h0M336.4 444.6h0M317.0 424.3h0M322.2 437.1h0M320.2 454.1h0M333.6 430.3h0M311.2 420.4h0M331.3 421.8h0M332.4 420.6h0M321.2 445.3h0M308.4 424.1h0M336.0 435.3h0M331.3 451.9h0M309.6 426.8h0M336.2 427.8h0M327.8 460.9h0M325.5 440.3h0M345.6 448.6h0M339.4 433.1h0M326.7 450.5h0M307.1 422.2h0M320.2 431.3h0M328.1 422.6h0M332.1 423.8h0M331.4 445.5h0M326.0 448.7h0M333.8 446.8h0M344.3 441.0h0M331.2 449.1h0M332.4 456.2h0M329.1 451.3h0M329.6 430.0h0M335.9 424.4h0M336.2 447.8h0M331.7 436.7h0M324.4 445.5h0M329.1 442.3h0M316.9 429.3h0M339.3 454.4h0M342.2 454.4h0M330.4 436.1h0M331.8 459.0h0M330.1 446.5h0M317.4 434.6h0M333.0 439.6h0M319.2 441.3h0M334.8 424.1h0M323.5 451.1h0M339.1 442.4h0M318.8 422.1h0M327.2 430.5h0M323.2 443.5h0M335.8 458.5h0M323.4 435.9h0M337.6 447.0h0M333.4 435.9h0M330.0 426.9h0M330.1 433.1h0M328.5 449.0h0M317.6 431.1h0M333.7 455.4h0M328.2 457.7h0M346.1 443.4h0M338.8 431.8h0M337.3 450.7h0M338.2 436.0h0M343.8 448.4h0M318.7 446.6h0M337.6 444.2h0M324.8 458.9h0M327.9 426.1h0M341.5 441.0h0M312.1 425.1h0M305.2 422.5h0M318.5 443.9h0M314.0 424.2h0M325.4 436.1h0M344.9 451.0h0M342.4 443.8h0M326.9 446.4h0M336.0 442.3h0M326.1 424.5h0M321.1 447.4h0M327.6 440.5h0M341.5 437.8h0M344.0 455.0h0M319.8 427.9h0M342.1 439.7h0M339.9 446.7h0M307.3 420.9h0M324.6 444.9h0M340.6 444.4h0M335.1 421.7h0M328.8 424.5h0M325.2 431.3h0M338.4 452.6h0M340.9 448.1h0M343.0 452.0h0M329.4 437.3h0M313.3 431.6h0M341.9 433.9h0M328.3 459.9h0M335.0 429.7h0M333.7 458.7h0M341.7 449.7h0M335.2 451.2h0M331.4 457.8h0M312.4 428.2h0M334.7 456.8h0M318.5 424.7h0M314.9 421.8h0M339.2 449.6h0M320.8 452.3h0M320.9 428.7h0M315.8 431.0h0M341.2 446.8h0M326.9 429.3h0M334.5 433.2h0M327.0 437.8h0M320.0 427.1h0M341.1 435.6h0M326.2 442.2h0M323.1 448.3h0M329.3 420.5h0M336.4 439.5h0M332.2 426.1h0M335.3 452.2h0M337.0 432.3h0M330.1 418.8h0M320.2 433.9h0M337.8 447.4h0M316.9 433.9h0M320.0 443.6h0M317.5 446.5h0M333.9 421.5h0M326.4 426.1h0M337.6 437.2h0M334.7 426.1h0M344.6 446.0h0M321.0 439.8h0M328.3 454.9h0M324.8 437.4h0M327.2 434.7h0M323.8 452.6h0M323.6 431.0h0M316.1 426.6h0M332.2 450.3h0M313.7 429.6h0M321.4 432.9h0M307.4 424.2h0M338.1 457.1h0M335.1 441.4h0M322.6 441.3h0M347.2 442.4h0M332.3 452.2h0M331.3 433.3h0M338.3 425.9h0M331.8 454.3h0M310.8 422.6h0M321.9 449.8h0M320.9 436.1h0M328.8 443.6h0M325.2 452.1h0M329.9 443.1h0M325.6 461.3h0" stroke="#fffa48" stroke-width="1.45" stroke-linecap="round" fill="none"/>
<path d="M280.0 437.8h0M271.9 429.2h0M307.8 459.8h0M310.1 446.1h0M295.5 475.5h0M304.9 472.0h0M295.4 459.4h0M287.9 442.7h0M310.8 455.1h0M286.7 455.6h0M291.0 461.6h0M315.4 461.4h0M314.5 473.0h0M297.7 472.2h0M279.6 441.6h0M292.5 433.0h0M295.1 451.4h0M281.1 435.0h0M282.4 437.0h0M283.8 453.8h0M304.1 436.5h0M313.4 456.5h0M288.9 435.1h0M298.2 452.4h0M300.1 447.0h0M317.5 450.8h0M301.8 425.1h0M286.4 444.2h0M302.4 441.9h0M268.3 428.5h0M284.3 443.5h0M295.7 463.4h0M293.6 457.8h0M311.9 458.4h0M308.8 443.9h0M299.5 433.8h0M293.5 431.1h0M280.3 433.6h0M292.4 467.7h0M290.0 463.2h0M304.1 430.9h0M306.8 462.5h0M310.0 451.8h0M289.7 431.7h0M272.3 425.2h0M301.3 479.1h0M291.7 431.8h0M292.7 437.7h0M291.8 450.4h0M297.2 447.4h0M294.5 444.4h0M295.9 466.1h0M319.2 467.9h0M306.3 452.3h0M284.4 439.4h0M310.3 432.7h0M307.1 448.6h0M276.8 423.3h0M295.8 461.3h0M302.6 459.8h0M297.9 425.8h0M274.6 425.7h0M318.1 455.5h0M303.0 433.5h0M297.2 435.5h0M279.6 423.0h0M291.5 445.3h0M308.1 429.6h0M299.6 449.2h0M282.7 454.8h0M293.5 439.5h0M303.2 477.0h0M295.4 427.9h0M295.1 469.1h0M282.2 423.1h0M281.5 431.9h0M267.2 427.5h0M314.7 448.4h0M301.8 466.5h0M302.0 453.1h0M304.0 439.4h0M300.5 464.9h0M281.0 426.9h0M284.4 422.7h0M289.7 471.4h0M295.8 454.8h0M278.9 430.7h0M312.5 476.5h0M305.9 440.8h0M300.7 444.5h0M285.4 427.0h0M305.0 446.6h0M303.5 443.7h0M296.9 444.4h0M316.6 443.5h0M304.7 442.1h0M288.1 424.0h0M295.0 424.0h0M293.9 475.1h0M282.7 441.8h0M311.9 449.1h0M280.5 440.4h0M281.8 425.1h0M295.4 445.9h0M285.2 445.8h0M280.4 446.0h0M293.9 461.2h0M303.7 461.6h0M304.2 448.2h0M306.2 469.7h0M289.8 438.3h0M304.1 427.8h0M304.6 477.8h0M286.7 447.9h0M292.1 425.1h0M298.9 440.6h0M301.4 475.7h0M291.9 441.4h0M290.1 446.8h0M299.6 473.6h0M319.6 450.8h0M310.5 442.2h0M285.8 441.7h0M313.3 463.7h0M270.0 425.7h0M318.1 461.5h0M284.4 425.0h0M288.1 444.5h0M312.4 455.1h0M289.3 440.3h0M295.9 448.5h0M288.3 437.7h0M275.7 431.9h0M291.3 465.5h0M284.1 449.5h0M298.4 437.2h0M298.5 429.2h0M308.3 447.9h0M313.3 466.2h0M309.4 463.4h0M286.9 435.1h0M289.2 450.6h0M314.4 453.2h0M300.3 441.9h0M295.8 429.0h0M316.4 449.0h0M278.4 439.4h0M300.3 438.1h0M306.6 430.9h0M287.2 434.2h0M286.5 461.7h0M276.6 432.6h0M302.9 478.4h0M311.6 439.7h0M290.8 424.9h0M294.3 467.0h0M292.3 473.4h0M300.2 459.2h0M286.8 431.5h0M296.7 463.2h0M297.3 468.4h0M309.5 474.0h0M274.3 423.5h0M317.7 438.1h0M311.0 466.6h0M304.5 453.5h0M287.1 439.8h0M303.4 473.2h0M319.5 466.8h0M311.8 438.6h0M311.4 471.4h0M307.4 433.7h0M309.3 467.8h0M297.7 454.5h0M274.3 427.2h0M289.4 468.9h0M318.3 458.0h0M282.7 428.6h0M309.1 473.6h0M294.4 427.2h0M286.0 429.0h0M294.8 476.4h0M319.0 449.3h0M288.0 472.4h0M305.6 435.7h0M309.5 431.8h0M319.4 463.7h0M292.0 428.8h0M302.2 470.9h0M305.5 427.9h0M317.2 466.7h0M298.3 423.0h0M307.9 466.7h0M266.7 425.2h0M307.0 456.0h0M312.9 473.1h0M315.7 451.4h0M294.4 423.0h0M293.7 435.9h0M299.0 426.3h0M292.1 475.6h0M275.1 420.6h0M297.2 441.6h0M299.6 462.3h0M298.6 430.6h0M277.5 425.6h0M277.9 438.2h0M296.6 423.1h0M319.6 452.7h0M313.3 447.2h0M305.3 468.2h0M300.7 462.2h0M308.1 442.4h0M280.5 421.2h0M274.5 429.5h0M291.8 471.1h0M313.2 445.3h0M286.2 422.4h0M292.0 421.9h0M313.3 451.3h0M302.9 456.2h0M284.8 434.0h0M288.0 447.9h0M287.8 429.6h0M295.7 442.8h0M308.1 476.3h0M311.8 443.6h0M291.9 436.2h0M305.5 457.6h0M298.9 466.9h0M298.1 433.5h0M272.1 423.0h0M297.0 450.3h0M315.7 470.1h0M294.0 453.5h0M297.0 452.6h0M314.3 463.6h0M267.9 427.9h0M298.4 474.5h0M287.9 418.9h0M307.6 437.9h0M285.7 451.5h0M284.6 430.6h0M283.1 420.7h0M316.9 473.0h0M311.1 435.0h0M287.6 459.9h0M288.4 458.3h0M297.4 476.2h0M300.1 429.4h0M315.7 437.8h0M290.5 479.1h0M293.0 464.2h0M314.7 470.4h0M286.9 477.3h0M310.4 462.5h0M312.7 460.2h0M307.6 450.6h0M289.9 429.6h0M305.5 458.7h0M289.2 452.2h0M293.6 471.4h0M298.1 435.5h0M299.4 451.4h0M302.1 438.3h0M289.2 474.5h0M308.7 461.0h0M298.3 457.4h0M289.6 432.8h0M278.0 435.1h0M313.7 440.1h0M300.7 469.3h0M300.9 424.9h0M265.9 428.9h0M306.3 445.0h0M315.5 446.1h0M282.2 444.2h0M308.9 441.0h0M270.0 428.8h0M318.2 458.9h0M302.7 451.4h0M296.5 430.5h0M290.8 443.1h0M309.2 454.0h0M264.3 426.9h0M295.8 438.2h0M271.2 426.8h0M290.6 439.8h0M308.2 464.4h0M318.3 468.9h0M289.2 478.7h0M302.5 468.3h0M275.4 437.4h0M271.4 430.8h0M286.0 437.7h0M289.2 426.3h0M302.0 440.5h0M301.8 463.1h0M304.7 475.6h0M308.2 435.7h0M314.8 455.1h0M309.1 470.5h0M315.6 456.7h0M292.0 446.2h0M291.7 458.1h0M297.1 439.6h0M290.8 476.2h0M314.5 442.2h0M301.3 435.2h0M290.8 459.8h0M317.9 470.3h0M307.5 468.7h0M280.6 424.9h0M282.1 433.6h0M314.9 459.5h0M285.7 477.2h0M279.6 427.9h0M300.4 427.0h0M286.6 453.5h0M305.7 450.5h0M308.4 473.1h0M312.5 468.4h0M296.5 470.1h0M287.3 450.1h0M301.0 458.0h0M278.4 420.4h0M292.6 477.8h0M314.5 435.7h0M303.4 458.3h0M310.8 474.7h0M309.3 438.1h0M276.2 435.8h0M291.0 453.7h0M305.4 433.9h0M283.7 435.5h0M294.2 473.2h0M309.2 459.4h0M291.2 448.4h0M300.1 477.3h0M289.4 455.2h0M305.3 438.1h0M316.2 440.4h0M303.1 429.4h0M293.9 449.1h0M279.9 429.3h0M308.2 456.8h0M291.7 426.4h0M314.1 461.1h0M273.4 432.7h0M317.2 442.9h0M303.4 470.4h0M302.0 446.2h0M304.2 463.4h0M276.9 427.0h0M304.2 429.2h0M306.0 465.7h0M283.1 426.2h0M317.2 464.6h0M289.6 422.8h0M307.0 474.8h0M289.6 472.4h0M298.2 443.7h0M303.6 466.7h0M312.8 443.1h0M304.9 454.8h0M298.3 470.9h0M310.0 476.9h0M297.2 460.0h0M276.8 428.5h0M301.5 430.8h0M316.5 452.9h0M296.3 457.6h0M300.9 454.9h0M288.1 446.2h0M302.0 448.3h0M273.8 431.7h0M285.9 455.0h0M292.9 454.7h0M314.2 468.4h0M289.6 461.5h0M311.5 452.7h0M307.0 446.0h0M293.1 459.4h0M295.8 433.2h0" stroke="#980000" stroke-width="4.5" stroke-linecap="round" fill="none"/>
<path d="M280.0 437.8h0M271.9 429.2h0M307.8 459.8h0M310.1 446.1h0M295.5 475.5h0M304.9 472.0h0M295.4 459.4h0M287.9 442.7h0M310.8 455.1h0M286.7 455.6h0M291.0 461.6h0M315.4 461.4h0M314.5 473.0h0M297.7 472.2h0M279.6 441.6h0M292.5 433.0h0M295.1 451.4h0M281.1 435.0h0M282.4 437.0h0M283.8 453.8h0M304.1 436.5h0M313.4 456.5h0M288.9 435.1h0M298.2 452.4h0M300.1 447.0h0M317.5 450.8h0M301.8 425.1h0M286.4 444.2h0M302.4 441.9h0M268.3 428.5h0M284.3 443.5h0M295.7 463.4h0M293.6 457.8h0M311.9 458.4h0M308.8 443.9h0M299.5 433.8h0M293.5 431.1h0M280.3 433.6h0M292.4 467.7h0M290.0 463.2h0M304.1 430.9h0M306.8 462.5h0M310.0 451.8h0M289.7 431.7h0M272.3 425.2h0M301.3 479.1h0M291.7 431.8h0M292.7 437.7h0M291.8 450.4h0M297.2 447.4h0M294.5 444.4h0M295.9 466.1h0M319.2 467.9h0M306.3 452.3h0M284.4 439.4h0M310.3 432.7h0M307.1 448.6h0M276.8 423.3h0M295.8 461.3h0M302.6 459.8h0M297.9 425.8h0M274.6 425.7h0M318.1 455.5h0M303.0 433.5h0M297.2 435.5h0M279.6 423.0h0M291.5 445.3h0M308.1 429.6h0M299.6 449.2h0M282.7 454.8h0M293.5 439.5h0M303.2 477.0h0M295.4 427.9h0M295.1 469.1h0M282.2 423.1h0M281.5 431.9h0M267.2 427.5h0M314.7 448.4h0M301.8 466.5h0M302.0 453.1h0M304.0 439.4h0M300.5 464.9h0M281.0 426.9h0M284.4 422.7h0M289.7 471.4h0M295.8 454.8h0M278.9 430.7h0M312.5 476.5h0M305.9 440.8h0M300.7 444.5h0M285.4 427.0h0M305.0 446.6h0M303.5 443.7h0M296.9 444.4h0M316.6 443.5h0M304.7 442.1h0M288.1 424.0h0M295.0 424.0h0M293.9 475.1h0M282.7 441.8h0M311.9 449.1h0M280.5 440.4h0M281.8 425.1h0M295.4 445.9h0M285.2 445.8h0M280.4 446.0h0M293.9 461.2h0M303.7 461.6h0M304.2 448.2h0M306.2 469.7h0M289.8 438.3h0M304.1 427.8h0M304.6 477.8h0M286.7 447.9h0M292.1 425.1h0M298.9 440.6h0M301.4 475.7h0M291.9 441.4h0M290.1 446.8h0M299.6 473.6h0M319.6 450.8h0M310.5 442.2h0M285.8 441.7h0M313.3 463.7h0M270.0 425.7h0M318.1 461.5h0M284.4 425.0h0M288.1 444.5h0M312.4 455.1h0M289.3 440.3h0M295.9 448.5h0M288.3 437.7h0M275.7 431.9h0M291.3 465.5h0M284.1 449.5h0M298.4 437.2h0M298.5 429.2h0M308.3 447.9h0M313.3 466.2h0M309.4 463.4h0M286.9 435.1h0M289.2 450.6h0M314.4 453.2h0M300.3 441.9h0M295.8 429.0h0M316.4 449.0h0M278.4 439.4h0M300.3 438.1h0M306.6 430.9h0M287.2 434.2h0M286.5 461.7h0M276.6 432.6h0M302.9 478.4h0M311.6 439.7h0M290.8 424.9h0M294.3 467.0h0M292.3 473.4h0M300.2 459.2h0M286.8 431.5h0M296.7 463.2h0M297.3 468.4h0M309.5 474.0h0M274.3 423.5h0M317.7 438.1h0M311.0 466.6h0M304.5 453.5h0M287.1 439.8h0M303.4 473.2h0M319.5 466.8h0M311.8 438.6h0M311.4 471.4h0M307.4 433.7h0M309.3 467.8h0M297.7 454.5h0M274.3 427.2h0M289.4 468.9h0M318.3 458.0h0M282.7 428.6h0M309.1 473.6h0M294.4 427.2h0M286.0 429.0h0M294.8 476.4h0M319.0 449.3h0M288.0 472.4h0M305.6 435.7h0M309.5 431.8h0M319.4 463.7h0M292.0 428.8h0M302.2 470.9h0M305.5 427.9h0M317.2 466.7h0M298.3 423.0h0M307.9 466.7h0M266.7 425.2h0M307.0 456.0h0M312.9 473.1h0M315.7 451.4h0M294.4 423.0h0M293.7 435.9h0M299.0 426.3h0M292.1 475.6h0M275.1 420.6h0M297.2 441.6h0M299.6 462.3h0M298.6 430.6h0M277.5 425.6h0M277.9 438.2h0M296.6 423.1h0M319.6 452.7h0M313.3 447.2h0M305.3 468.2h0M300.7 462.2h0M308.1 442.4h0M280.5 421.2h0M274.5 429.5h0M291.8 471.1h0M313.2 445.3h0M286.2 422.4h0M292.0 421.9h0M313.3 451.3h0M302.9 456.2h0M284.8 434.0h0M288.0 447.9h0M287.8 429.6h0M295.7 442.8h0M308.1 476.3h0M311.8 443.6h0M291.9 436.2h0M305.5 457.6h0M298.9 466.9h0M298.1 433.5h0M272.1 423.0h0M297.0 450.3h0M315.7 470.1h0M294.0 453.5h0M297.0 452.6h0M314.3 463.6h0M267.9 427.9h0M298.4 474.5h0M287.9 418.9h0M307.6 437.9h0M285.7 451.5h0M284.6 430.6h0M283.1 420.7h0M316.9 473.0h0M311.1 435.0h0M287.6 459.9h0M288.4 458.3h0M297.4 476.2h0M300.1 429.4h0M315.7 437.8h0M290.5 479.1h0M293.0 464.2h0M314.7 470.4h0M286.9 477.3h0M310.4 462.5h0M312.7 460.2h0M307.6 450.6h0M289.9 429.6h0M305.5 458.7h0M289.2 452.2h0M293.6 471.4h0M298.1 435.5h0M299.4 451.4h0M302.1 438.3h0M289.2 474.5h0M308.7 461.0h0M298.3 457.4h0M289.6 432.8h0M278.0 435.1h0M313.7 440.1h0M300.7 469.3h0M300.9 424.9h0M265.9 428.9h0M306.3 445.0h0M315.5 446.1h0M282.2 444.2h0M308.9 441.0h0M270.0 428.8h0M318.2 458.9h0M302.7 451.4h0M296.5 430.5h0M290.8 443.1h0M309.2 454.0h0M264.3 426.9h0M295.8 438.2h0M271.2 426.8h0M290.6 439.8h0M308.2 464.4h0M318.3 468.9h0M289.2 478.7h0M302.5 468.3h0M275.4 437.4h0M271.4 430.8h0M286.0 437.7h0M289.2 426.3h0M302.0 440.5h0M301.8 463.1h0M304.7 475.6h0M308.2 435.7h0M314.8 455.1h0M309.1 470.5h0M315.6 456.7h0M292.0 446.2h0M291.7 458.1h0M297.1 439.6h0M290.8 476.2h0M314.5 442.2h0M301.3 435.2h0M290.8 459.8h0M317.9 470.3h0M307.5 468.7h0M280.6 424.9h0M282.1 433.6h0M314.9 459.5h0M285.7 477.2h0M279.6 427.9h0M300.4 427.0h0M286.6 453.5h0M305.7 450.5h0M308.4 473.1h0M312.5 468.4h0M296.5 470.1h0M287.3 450.1h0M301.0 458.0h0M278.4 420.4h0M292.6 477.8h0M314.5 435.7h0M303.4 458.3h0M310.8 474.7h0M309.3 438.1h0M276.2 435.8h0M291.0 453.7h0M305.4 433.9h0M283.7 435.5h0M294.2 473.2h0M309.2 459.4h0M291.2 448.4h0M300.1 477.3h0M289.4 455.2h0M305.3 438.1h0M316.2 440.4h0M303.1 429.4h0M293.9 449.1h0M279.9 429.3h0M308.2 456.8h0M291.7 426.4h0M314.1 461.1h0M273.4 432.7h0M317.2 442.9h0M303.4 470.4h0M302.0 446.2h0M304.2 463.4h0M276.9 427.0h0M304.2 429.2h0M306.0 465.7h0M283.1 426.2h0M317.2 464.6h0M289.6 422.8h0M307.0 474.8h0M289.6 472.4h0M298.2 443.7h0M303.6 466.7h0M312.8 443.1h0M304.9 454.8h0M298.3 470.9h0M310.0 476.9h0M297.2 460.0h0M276.8 428.5h0M301.5 430.8h0M316.5 452.9h0M296.3 457.6h0M300.9 454.9h0M288.1 446.2h0M302.0 448.3h0M273.8 431.7h0M285.9 455.0h0M292.9 454.7h0M314.2 468.4h0M289.6 461.5h0M311.5 452.7h0M307.0 446.0h0M293.1 459.4h0M295.8 433.2h0" stroke="#ea0000" stroke-width="2.8" stroke-linecap="round" fill="none"/>
<path d="M279.8 437.6h0M271.7 428.9h0M307.6 459.5h0M309.9 445.9h0M295.3 475.2h0M304.7 471.8h0M295.2 459.2h0M287.7 442.5h0M310.6 454.8h0M286.5 455.3h0M290.8 461.3h0M315.2 461.2h0M314.3 472.8h0M297.5 472.0h0M279.4 441.4h0M292.3 432.8h0M294.9 451.2h0M280.9 434.8h0M282.2 436.7h0M283.6 453.5h0M303.9 436.3h0M313.2 456.3h0M288.7 434.9h0M298.0 452.2h0M299.9 446.8h0M317.3 450.6h0M301.6 424.8h0M286.2 444.0h0M302.2 441.7h0M268.1 428.3h0M284.1 443.3h0M295.5 463.2h0M293.4 457.5h0M311.7 458.1h0M308.6 443.7h0M299.3 433.5h0M293.3 430.8h0M280.1 433.3h0M292.2 467.4h0M289.8 463.0h0M303.9 430.6h0M306.6 462.2h0M309.8 451.5h0M289.5 431.4h0M272.1 424.9h0M301.1 478.8h0M291.5 431.5h0M292.5 437.5h0M291.6 450.2h0M297.0 447.1h0M294.3 444.2h0M295.7 465.9h0M319.0 467.6h0M306.1 452.1h0M284.2 439.2h0M310.1 432.4h0M306.9 448.3h0M276.6 423.1h0M295.6 461.1h0M302.4 459.6h0M297.7 425.5h0M274.4 425.4h0M317.9 455.3h0M302.8 433.2h0M297.0 435.3h0M279.4 422.8h0M291.3 445.1h0M307.9 429.3h0M299.4 449.0h0M282.5 454.6h0M293.3 439.3h0M303.0 476.7h0M295.2 427.7h0M294.9 468.9h0M282.0 422.9h0M281.3 431.7h0M267.0 427.3h0M314.5 448.2h0M301.6 466.2h0M301.8 452.9h0M303.8 439.1h0M300.3 464.6h0M280.8 426.7h0M284.2 422.4h0M289.5 471.1h0M295.6 454.6h0M278.7 430.5h0M312.3 476.2h0M305.7 440.6h0M300.5 444.3h0M285.2 426.7h0M304.8 446.4h0M303.3 443.4h0M296.7 444.2h0M316.4 443.3h0M304.5 441.8h0M287.9 423.7h0M294.8 423.7h0M293.7 474.9h0M282.5 441.6h0M311.7 448.8h0M280.3 440.1h0M281.6 424.9h0M295.2 445.6h0M285.0 445.5h0M280.2 445.8h0M293.7 460.9h0M303.5 461.4h0M304.0 447.9h0M306.0 469.5h0M289.6 438.1h0M303.9 427.5h0M304.4 477.6h0M286.5 447.6h0M291.9 424.8h0M298.7 440.3h0M301.2 475.4h0M291.7 441.1h0M289.9 446.6h0M299.4 473.3h0M319.4 450.6h0M310.3 442.0h0M285.6 441.5h0M313.1 463.4h0M269.8 425.5h0M317.9 461.2h0M284.2 424.7h0M287.9 444.2h0M312.2 454.9h0M289.1 440.0h0M295.7 448.3h0M288.1 437.4h0M275.5 431.6h0M291.1 465.3h0M283.9 449.3h0M298.2 437.0h0M298.3 429.0h0M308.1 447.6h0M313.1 465.9h0M309.2 463.1h0M286.7 434.9h0M289.0 450.4h0M314.2 453.0h0M300.1 441.7h0M295.6 428.8h0M316.2 448.7h0M278.2 439.2h0M300.1 437.8h0M306.4 430.7h0M287.0 433.9h0M286.3 461.5h0M276.4 432.4h0M302.7 478.1h0M311.4 439.4h0M290.6 424.6h0M294.1 466.7h0M292.1 473.2h0M300.0 458.9h0M286.6 431.2h0M296.5 463.0h0M297.1 468.1h0M309.3 473.7h0M274.1 423.2h0M317.5 437.8h0M310.8 466.4h0M304.3 453.2h0M286.9 439.6h0M303.2 472.9h0M319.3 466.6h0M311.6 438.4h0M311.2 471.2h0M307.2 433.5h0M309.1 467.6h0M297.5 454.3h0M274.1 427.0h0M289.2 468.6h0M318.1 457.7h0M282.5 428.3h0M308.9 473.3h0M294.2 426.9h0M285.8 428.7h0M294.6 476.2h0M318.8 449.0h0M287.8 472.2h0M305.4 435.4h0M309.3 431.6h0M319.2 463.5h0M291.8 428.5h0M302.0 470.7h0M305.3 427.6h0M317.0 466.5h0M298.1 422.8h0M307.7 466.4h0M266.5 425.0h0M306.8 455.8h0M312.7 472.9h0M315.5 451.2h0M294.2 422.7h0M293.5 435.7h0M298.8 426.0h0M291.9 475.3h0M274.9 420.3h0M297.0 441.3h0M299.4 462.1h0M298.4 430.3h0M277.3 425.4h0M277.7 437.9h0M296.4 422.9h0M319.4 452.4h0M313.1 447.0h0M305.1 467.9h0M300.5 462.0h0M307.9 442.1h0M280.3 421.0h0M274.3 429.2h0M291.6 470.8h0M313.0 445.1h0M286.0 422.1h0M291.8 421.6h0M313.1 451.1h0M302.7 455.9h0M284.6 433.8h0M287.8 447.6h0M287.6 429.4h0M295.5 442.5h0M307.9 476.0h0M311.6 443.3h0M291.7 436.0h0M305.3 457.3h0M298.7 466.6h0M297.9 433.2h0M271.9 422.8h0M296.8 450.0h0M315.5 469.8h0M293.8 453.3h0M296.8 452.4h0M314.1 463.4h0M267.7 427.6h0M298.2 474.3h0M287.7 418.6h0M307.4 437.6h0M285.5 451.2h0M284.4 430.3h0M282.9 420.4h0M316.7 472.7h0M310.9 434.7h0M287.4 459.6h0M288.2 458.1h0M297.2 475.9h0M299.9 429.1h0M315.5 437.6h0M290.3 478.8h0M292.8 464.0h0M314.5 470.1h0M286.7 477.1h0M310.2 462.3h0M312.5 459.9h0M307.4 450.4h0M289.7 429.4h0M305.3 458.5h0M289.0 452.0h0M293.4 471.1h0M297.9 435.2h0M299.2 451.1h0M301.9 438.1h0M289.0 474.3h0M308.5 460.8h0M298.1 457.1h0M289.4 432.6h0M277.8 434.9h0M313.5 439.9h0M300.5 469.0h0M300.7 424.7h0M265.7 428.7h0M306.1 444.7h0M315.3 445.8h0M282.0 443.9h0M308.7 440.7h0M269.8 428.5h0M318.0 458.6h0M302.5 451.2h0M296.3 430.2h0M290.6 442.8h0M309.0 453.7h0M264.1 426.6h0M295.6 438.0h0M271.0 426.5h0M290.4 439.5h0M308.0 464.2h0M318.1 468.6h0M289.0 478.4h0M302.3 468.0h0M275.2 437.1h0M271.2 430.6h0M285.8 437.5h0M289.0 426.0h0M301.8 440.2h0M301.6 462.8h0M304.5 475.4h0M308.0 435.4h0M314.6 454.8h0M308.9 470.2h0M315.4 456.4h0M291.8 446.0h0M291.5 457.9h0M296.9 439.3h0M290.6 476.0h0M314.3 442.0h0M301.1 435.0h0M290.6 459.5h0M317.7 470.0h0M307.3 468.4h0M280.4 424.7h0M281.9 433.3h0M314.7 459.2h0M285.5 476.9h0M279.4 427.7h0M300.2 426.8h0M286.4 453.3h0M305.5 450.2h0M308.2 472.8h0M312.3 468.2h0M296.3 469.8h0M287.1 449.9h0M300.8 457.8h0M278.2 420.2h0M292.4 477.6h0M314.3 435.4h0M303.2 458.0h0M310.6 474.4h0M309.1 437.9h0M276.0 435.6h0M290.8 453.5h0M305.2 433.6h0M283.5 435.2h0M294.0 472.9h0M309.0 459.1h0M291.0 448.1h0M299.9 477.1h0M289.2 455.0h0M305.1 437.9h0M316.0 440.2h0M302.9 429.2h0M293.7 448.9h0M279.7 429.1h0M308.0 456.6h0M291.5 426.1h0M313.9 460.9h0M273.2 432.5h0M317.0 442.6h0M303.2 470.1h0M301.8 446.0h0M304.0 463.2h0M276.7 426.8h0M304.0 428.9h0M305.8 465.5h0M282.9 425.9h0M317.0 464.4h0M289.4 422.5h0M306.8 474.5h0M289.4 472.1h0M298.0 443.5h0M303.4 466.4h0M312.6 442.8h0M304.7 454.6h0M298.1 470.7h0M309.8 476.7h0M297.0 459.8h0M276.6 428.2h0M301.3 430.5h0M316.3 452.7h0M296.1 457.3h0M300.7 454.7h0M287.9 445.9h0M301.8 448.0h0M273.6 431.5h0M285.7 454.8h0M292.7 454.4h0M314.0 468.1h0M289.4 461.3h0M311.3 452.5h0M306.8 445.8h0M292.9 459.2h0M295.6 432.9h0" stroke="#ff3030" stroke-width="1.45" stroke-linecap="round" fill="none"/>
<path d="M273.9 449.6h0M257.2 462.2h0M278.7 457.6h0M268.4 459.2h0M247.4 462.7h0M264.5 461.8h0M266.9 466.3h0M260.7 460.5h0M268.4 462.7h0M275.9 460.0h0M271.8 450.5h0M278.6 454.1h0M260.0 462.6h0M249.7 463.3h0M257.1 452.6h0M268.4 461.1h0M253.8 454.9h0M256.9 449.0h0M256.0 458.8h0M276.4 458.9h0M261.1 458.1h0M262.8 464.3h0M276.5 463.4h0M251.2 451.8h0M271.2 466.4h0M260.7 464.1h0M259.2 449.0h0M253.4 455.8h0M273.8 450.9h0M275.7 455.4h0M271.6 453.4h0M264.5 457.7h0M264.6 455.9h0M249.6 464.0h0M258.3 448.2h0M258.3 453.8h0M269.9 467.0h0M258.0 456.9h0M264.9 461.1h0M263.2 460.2h0M251.0 458.6h0M262.6 451.0h0M248.6 455.8h0M273.5 454.8h0M273.5 460.0h0M275.9 454.8h0M271.5 463.2h0M254.6 452.1h0M261.3 450.4h0M248.1 461.2h0M264.7 451.9h0M250.7 462.0h0M273.7 456.2h0M253.0 451.8h0M269.9 465.4h0M250.4 456.3h0M249.1 458.2h0M254.2 458.4h0M276.2 464.3h0M271.7 457.5h0M271.2 451.5h0M254.4 463.5h0M248.7 454.2h0M275.0 462.1h0M277.0 460.8h0M266.0 453.5h0M269.5 454.4h0M259.8 451.0h0M250.7 460.3h0M266.7 457.5h0M271.1 455.3h0M252.2 453.7h0M275.2 452.6h0M262.2 454.6h0M253.4 465.1h0M265.3 465.8h0M257.3 453.5h0M278.6 456.9h0M273.4 467.5h0M262.4 455.5h0M261.5 461.9h0M259.2 459.1h0M260.0 456.0h0M254.8 455.8h0M268.6 456.3h0M266.5 462.6h0M277.9 452.7h0M263.8 453.7h0M253.3 460.7h0M256.1 461.4h0M273.3 457.5h0M257.6 459.9h0M270.8 461.1h0M267.3 465.1h0" stroke="#17461a" stroke-width="4.5" stroke-linecap="round" fill="none"/>
<path d="M273.9 449.6h0M257.2 462.2h0M278.7 457.6h0M268.4 459.2h0M247.4 462.7h0M264.5 461.8h0M266.9 466.3h0M260.7 460.5h0M268.4 462.7h0M275.9 460.0h0M271.8 450.5h0M278.6 454.1h0M260.0 462.6h0M249.7 463.3h0M257.1 452.6h0M268.4 461.1h0M253.8 454.9h0M256.9 449.0h0M256.0 458.8h0M276.4 458.9h0M261.1 458.1h0M262.8 464.3h0M276.5 463.4h0M251.2 451.8h0M271.2 466.4h0M260.7 464.1h0M259.2 449.0h0M253.4 455.8h0M273.8 450.9h0M275.7 455.4h0M271.6 453.4h0M264.5 457.7h0M264.6 455.9h0M249.6 464.0h0M258.3 448.2h0M258.3 453.8h0M269.9 467.0h0M258.0 456.9h0M264.9 461.1h0M263.2 460.2h0M251.0 458.6h0M262.6 451.0h0M248.6 455.8h0M273.5 454.8h0M273.5 460.0h0M275.9 454.8h0M271.5 463.2h0M254.6 452.1h0M261.3 450.4h0M248.1 461.2h0M264.7 451.9h0M250.7 462.0h0M273.7 456.2h0M253.0 451.8h0M269.9 465.4h0M250.4 456.3h0M249.1 458.2h0M254.2 458.4h0M276.2 464.3h0M271.7 457.5h0M271.2 451.5h0M254.4 463.5h0M248.7 454.2h0M275.0 462.1h0M277.0 460.8h0M266.0 453.5h0M269.5 454.4h0M259.8 451.0h0M250.7 460.3h0M266.7 457.5h0M271.1 455.3h0M252.2 453.7h0M275.2 452.6h0M262.2 454.6h0M253.4 465.1h0M265.3 465.8h0M257.3 453.5h0M278.6 456.9h0M273.4 467.5h0M262.4 455.5h0M261.5 461.9h0M259.2 459.1h0M260.0 456.0h0M254.8 455.8h0M268.6 456.3h0M266.5 462.6h0M277.9 452.7h0M263.8 453.7h0M253.3 460.7h0M256.1 461.4h0M273.3 457.5h0M257.6 459.9h0M270.8 461.1h0M267.3 465.1h0" stroke="#2c7830" stroke-width="2.8" stroke-linecap="round" fill="none"/>
<path d="M273.7 449.3h0M257.0 461.9h0M278.5 457.4h0M268.2 459.0h0M247.2 462.5h0M264.3 461.6h0M266.7 466.1h0M260.5 460.3h0M268.2 462.5h0M275.7 459.7h0M271.6 450.3h0M278.4 453.8h0M259.8 462.4h0M249.5 463.0h0M256.9 452.4h0M268.2 460.8h0M253.6 454.6h0M256.7 448.7h0M255.8 458.6h0M276.2 458.7h0M260.9 457.8h0M262.6 464.0h0M276.3 463.1h0M251.0 451.5h0M271.0 466.1h0M260.5 463.9h0M259.0 448.7h0M253.2 455.6h0M273.6 450.7h0M275.5 455.2h0M271.4 453.2h0M264.3 457.5h0M264.4 455.7h0M249.4 463.7h0M258.1 448.0h0M258.1 453.5h0M269.7 466.7h0M257.8 456.6h0M264.7 460.9h0M263.0 460.0h0M250.8 458.3h0M262.4 450.7h0M248.4 455.5h0M273.3 454.5h0M273.3 459.8h0M275.7 454.6h0M271.3 462.9h0M254.4 451.8h0M261.1 450.2h0M247.9 461.0h0M264.5 451.6h0M250.5 461.8h0M273.5 456.0h0M252.8 451.6h0M269.7 465.1h0M250.2 456.1h0M248.9 457.9h0M254.0 458.2h0M276.0 464.1h0M271.5 457.3h0M271.0 451.3h0M254.2 463.3h0M248.5 453.9h0M274.8 461.9h0M276.8 460.6h0M265.8 453.3h0M269.3 454.2h0M259.6 450.7h0M250.5 460.0h0M266.5 457.2h0M270.9 455.1h0M252.0 453.5h0M275.0 452.3h0M262.0 454.4h0M253.2 464.9h0M265.1 465.6h0M257.1 453.2h0M278.4 456.6h0M273.2 467.2h0M262.2 455.2h0M261.3 461.6h0M259.0 458.9h0M259.8 455.8h0M254.6 455.5h0M268.4 456.1h0M266.3 462.3h0M277.7 452.4h0M263.6 453.4h0M253.1 460.4h0M255.9 461.1h0M273.1 457.2h0M257.4 459.6h0M270.6 460.9h0M267.1 464.8h0" stroke="#4a964e" stroke-width="1.45" stroke-linecap="round" fill="none"/>
<path d="M243.1 484.7h0M245.2 469.0h0M248.1 491.8h0M250.4 466.2h0M262.4 490.4h0M249.3 483.5h0M241.5 486.4h0M241.3 476.4h0M261.7 484.6h0M249.0 490.2h0M246.8 485.1h0M254.2 482.2h0M245.2 476.9h0M237.8 479.3h0M256.8 489.5h0M240.5 471.7h0M237.8 473.2h0M252.8 467.7h0M252.6 492.7h0M264.0 490.3h0M252.4 468.3h0M260.8 493.1h0M242.1 464.7h0M239.0 472.8h0M251.3 465.2h0M245.9 487.8h0M254.9 495.1h0M248.7 467.2h0M245.2 472.1h0M241.4 484.6h0M246.2 479.7h0M257.0 494.6h0M240.6 465.7h0M253.7 462.4h0M251.2 471.6h0M262.8 484.7h0M241.2 479.9h0M244.1 462.2h0M258.4 487.8h0M239.0 481.4h0M250.1 459.1h0M259.2 493.5h0M235.6 472.1h0M238.1 478.0h0M248.9 487.8h0M264.3 489.6h0M250.3 479.3h0M247.2 478.5h0M238.0 466.6h0M257.1 486.4h0M249.1 486.6h0M260.4 490.2h0M237.6 468.8h0M249.5 482.8h0M253.5 485.2h0M251.5 485.8h0M260.0 486.6h0M236.6 479.2h0M244.3 461.1h0M242.7 471.1h0M236.5 474.8h0M245.0 459.2h0M248.0 476.2h0M243.7 474.8h0M255.4 483.9h0M246.5 482.6h0M260.1 488.0h0M244.0 480.7h0M251.6 492.1h0M249.3 465.3h0M240.0 467.1h0M253.1 488.8h0M251.0 463.0h0M259.1 496.1h0M241.3 472.8h0M251.7 483.0h0M245.3 472.9h0M258.8 483.4h0M251.9 488.2h0M245.5 463.2h0M243.8 466.2h0M251.6 491.4h0M237.8 474.9h0M246.8 463.9h0M245.2 476.0h0M242.9 461.3h0M245.1 466.6h0M239.1 478.5h0M254.1 491.2h0M243.1 476.9h0M256.8 494.0h0M242.6 481.5h0M245.2 463.9h0M249.7 460.3h0M247.7 479.6h0M255.6 485.7h0M244.9 487.3h0M246.7 469.6h0M248.1 461.7h0M245.5 481.8h0M240.1 469.8h0M238.1 471.2h0M251.7 484.5h0M243.0 489.1h0M248.1 486.0h0M257.2 490.2h0M243.0 468.5h0" stroke="#009090" stroke-width="4.5" stroke-linecap="round" fill="none"/>
<path d="M243.1 484.7h0M245.2 469.0h0M248.1 491.8h0M250.4 466.2h0M262.4 490.4h0M249.3 483.5h0M241.5 486.4h0M241.3 476.4h0M261.7 484.6h0M249.0 490.2h0M246.8 485.1h0M254.2 482.2h0M245.2 476.9h0M237.8 479.3h0M256.8 489.5h0M240.5 471.7h0M237.8 473.2h0M252.8 467.7h0M252.6 492.7h0M264.0 490.3h0M252.4 468.3h0M260.8 493.1h0M242.1 464.7h0M239.0 472.8h0M251.3 465.2h0M245.9 487.8h0M254.9 495.1h0M248.7 467.2h0M245.2 472.1h0M241.4 484.6h0M246.2 479.7h0M257.0 494.6h0M240.6 465.7h0M253.7 462.4h0M251.2 471.6h0M262.8 484.7h0M241.2 479.9h0M244.1 462.2h0M258.4 487.8h0M239.0 481.4h0M250.1 459.1h0M259.2 493.5h0M235.6 472.1h0M238.1 478.0h0M248.9 487.8h0M264.3 489.6h0M250.3 479.3h0M247.2 478.5h0M238.0 466.6h0M257.1 486.4h0M249.1 486.6h0M260.4 490.2h0M237.6 468.8h0M249.5 482.8h0M253.5 485.2h0M251.5 485.8h0M260.0 486.6h0M236.6 479.2h0M244.3 461.1h0M242.7 471.1h0M236.5 474.8h0M245.0 459.2h0M248.0 476.2h0M243.7 474.8h0M255.4 483.9h0M246.5 482.6h0M260.1 488.0h0M244.0 480.7h0M251.6 492.1h0M249.3 465.3h0M240.0 467.1h0M253.1 488.8h0M251.0 463.0h0M259.1 496.1h0M241.3 472.8h0M251.7 483.0h0M245.3 472.9h0M258.8 483.4h0M251.9 488.2h0M245.5 463.2h0M243.8 466.2h0M251.6 491.4h0M237.8 474.9h0M246.8 463.9h0M245.2 476.0h0M242.9 461.3h0M245.1 466.6h0M239.1 478.5h0M254.1 491.2h0M243.1 476.9h0M256.8 494.0h0M242.6 481.5h0M245.2 463.9h0M249.7 460.3h0M247.7 479.6h0M255.6 485.7h0M244.9 487.3h0M246.7 469.6h0M248.1 461.7h0M245.5 481.8h0M240.1 469.8h0M238.1 471.2h0M251.7 484.5h0M243.0 489.1h0M248.1 486.0h0M257.2 490.2h0M243.0 468.5h0" stroke="#0cdcdc" stroke-width="2.8" stroke-linecap="round" fill="none"/>
<path d="M242.9 484.4h0M245.0 468.8h0M247.9 491.5h0M250.2 465.9h0M262.2 490.1h0M249.1 483.3h0M241.3 486.1h0M241.1 476.2h0M261.5 484.4h0M248.8 489.9h0M246.6 484.9h0M254.0 482.0h0M245.0 476.7h0M237.6 479.1h0M256.6 489.3h0M240.3 471.4h0M237.6 473.0h0M252.6 467.4h0M252.4 492.5h0M263.8 490.0h0M252.2 468.0h0M260.6 492.8h0M241.9 464.5h0M238.8 472.5h0M251.1 465.0h0M245.7 487.6h0M254.7 494.8h0M248.5 466.9h0M245.0 471.9h0M241.2 484.3h0M246.0 479.5h0M256.8 494.3h0M240.4 465.4h0M253.5 462.1h0M251.0 471.4h0M262.6 484.5h0M241.0 479.6h0M243.9 461.9h0M258.2 487.6h0M238.8 481.1h0M249.9 458.9h0M259.0 493.2h0M235.4 471.9h0M237.9 477.8h0M248.7 487.6h0M264.1 489.3h0M250.1 479.0h0M247.0 478.2h0M237.8 466.3h0M256.9 486.2h0M248.9 486.3h0M260.2 489.9h0M237.4 468.5h0M249.3 482.6h0M253.3 484.9h0M251.3 485.5h0M259.8 486.3h0M236.4 479.0h0M244.1 460.9h0M242.5 470.9h0M236.3 474.5h0M244.8 458.9h0M247.8 475.9h0M243.5 474.5h0M255.2 483.6h0M246.3 482.4h0M259.9 487.7h0M243.8 480.4h0M251.4 491.9h0M249.1 465.1h0M239.8 466.8h0M252.9 488.6h0M250.8 462.8h0M258.9 495.8h0M241.1 472.5h0M251.5 482.7h0M245.1 472.7h0M258.6 483.2h0M251.7 488.0h0M245.3 462.9h0M243.6 466.0h0M251.4 491.1h0M237.6 474.6h0M246.6 463.7h0M245.0 475.8h0M242.7 461.1h0M244.9 466.3h0M238.9 478.2h0M253.9 490.9h0M242.9 476.6h0M256.6 493.7h0M242.4 481.3h0M245.0 463.7h0M249.5 460.0h0M247.5 479.3h0M255.4 485.5h0M244.7 487.0h0M246.5 469.4h0M247.9 461.4h0M245.3 481.5h0M239.9 469.6h0M237.9 470.9h0M251.5 484.3h0M242.8 488.9h0M247.9 485.8h0M257.0 489.9h0M242.8 468.2h0" stroke="#48ffff" stroke-width="1.45" stroke-linecap="round" fill="none"/>
<path d="M258.7 494.6h0M254.0 489.7h0M257.2 495.0h0M254.4 493.4h0M256.6 498.4h0M255.4 496.8h0M251.5 492.3h0M256.2 490.1h0M260.5 495.9h0M261.3 498.5h0M260.0 500.3h0M260.0 498.4h0M254.9 488.5h0M253.9 491.5h0M257.4 492.2h0M252.3 489.2h0M254.9 491.4h0M258.9 495.5h0" stroke="#9c149c" stroke-width="4.5" stroke-linecap="round" fill="none"/>
<path d="M258.7 494.6h0M254.0 489.7h0M257.2 495.0h0M254.4 493.4h0M256.6 498.4h0M255.4 496.8h0M251.5 492.3h0M256.2 490.1h0M260.5 495.9h0M261.3 498.5h0M260.0 500.3h0M260.0 498.4h0M254.9 488.5h0M253.9 491.5h0M257.4 492.2h0M252.3 489.2h0M254.9 491.4h0M258.9 495.5h0" stroke="#ea38ea" stroke-width="2.8" stroke-linecap="round" fill="none"/>
<path d="M258.5 494.4h0M253.8 489.4h0M257.0 494.8h0M254.2 493.1h0M256.4 498.2h0M255.2 496.6h0M251.3 492.0h0M256.0 489.8h0M260.3 495.7h0M261.1 498.2h0M259.8 500.1h0M259.8 498.1h0M254.7 488.2h0M253.7 491.2h0M257.2 491.9h0M252.1 489.0h0M254.7 491.1h0M258.7 495.3h0" stroke="#ff6cff" stroke-width="1.45" stroke-linecap="round" fill="none"/>
<path d="M280.0 509.1h0M287.8 506.2h0M282.0 505.8h0M274.3 496.6h0M278.5 506.8h0M274.5 503.2h0M278.4 502.1h0M274.4 500.9h0M264.1 496.3h0M269.4 500.1h0M259.9 495.5h0M279.8 500.9h0M268.1 502.5h0M264.7 500.0h0M285.9 502.6h0M276.4 503.2h0M284.2 510.5h0M271.4 497.2h0M284.2 504.4h0M261.0 497.9h0M284.3 506.6h0M271.8 501.1h0M287.3 508.9h0M265.5 498.7h0M284.3 508.3h0M273.3 505.3h0M267.1 495.8h0M276.7 503.6h0M277.5 500.2h0M274.6 503.6h0M276.0 498.8h0M282.9 504.4h0M258.9 494.0h0M274.3 497.6h0M262.0 496.3h0M282.4 508.4h0M287.8 504.7h0M282.2 502.0h0M267.7 500.3h0M260.3 493.3h0M270.6 496.4h0M264.5 497.5h0M271.3 502.3h0M267.8 498.8h0M285.7 507.3h0M260.5 499.4h0M289.1 504.4h0M279.7 504.4h0" stroke="#880840" stroke-width="4.5" stroke-linecap="round" fill="none"/>
<path d="M280.0 509.1h0M287.8 506.2h0M282.0 505.8h0M274.3 496.6h0M278.5 506.8h0M274.5 503.2h0M278.4 502.1h0M274.4 500.9h0M264.1 496.3h0M269.4 500.1h0M259.9 495.5h0M279.8 500.9h0M268.1 502.5h0M264.7 500.0h0M285.9 502.6h0M276.4 503.2h0M284.2 510.5h0M271.4 497.2h0M284.2 504.4h0M261.0 497.9h0M284.3 506.6h0M271.8 501.1h0M287.3 508.9h0M265.5 498.7h0M284.3 508.3h0M273.3 505.3h0M267.1 495.8h0M276.7 503.6h0M277.5 500.2h0M274.6 503.6h0M276.0 498.8h0M282.9 504.4h0M258.9 494.0h0M274.3 497.6h0M262.0 496.3h0M282.4 508.4h0M287.8 504.7h0M282.2 502.0h0M267.7 500.3h0M260.3 493.3h0M270.6 496.4h0M264.5 497.5h0M271.3 502.3h0M267.8 498.8h0M285.7 507.3h0M260.5 499.4h0M289.1 504.4h0M279.7 504.4h0" stroke="#d41464" stroke-width="2.8" stroke-linecap="round" fill="none"/>
<path d="M279.8 508.9h0M287.6 505.9h0M281.8 505.5h0M274.1 496.3h0M278.3 506.6h0M274.3 503.0h0M278.2 501.8h0M274.2 500.6h0M263.9 496.1h0M269.2 499.8h0M259.7 495.3h0M279.6 500.6h0M267.9 502.2h0M264.5 499.7h0M285.7 502.4h0M276.2 503.0h0M284.0 510.2h0M271.2 496.9h0M284.0 504.1h0M260.8 497.6h0M284.1 506.3h0M271.6 500.9h0M287.1 508.6h0M265.3 498.5h0M284.1 508.0h0M273.1 505.0h0M266.9 495.6h0M276.5 503.4h0M277.3 499.9h0M274.4 503.4h0M275.8 498.5h0M282.7 504.1h0M258.7 493.8h0M274.1 497.3h0M261.8 496.1h0M282.2 508.1h0M287.6 504.5h0M282.0 501.8h0M267.5 500.1h0M260.1 493.1h0M270.4 496.2h0M264.3 497.3h0M271.1 502.0h0M267.6 498.6h0M285.5 507.0h0M260.3 499.1h0M288.9 504.1h0M279.5 504.2h0" stroke="#f03c8c" stroke-width="1.45" stroke-linecap="round" fill="none"/>
<path d="M287.9 506.8h0M300.4 509.7h0M287.6 508.8h0M288.8 505.8h0M286.3 507.4h0M286.5 505.6h0M293.0 507.5h0M290.2 506.8h0M294.0 508.5h0M296.6 507.1h0M297.0 509.0h0M299.1 508.1h0M288.9 508.7h0" stroke="#9c149c" stroke-width="4.5" stroke-linecap="round" fill="none"/>
<path d="M287.9 506.8h0M300.4 509.7h0M287.6 508.8h0M288.8 505.8h0M286.3 507.4h0M286.5 505.6h0M293.0 507.5h0M290.2 506.8h0M294.0 508.5h0M296.6 507.1h0M297.0 509.0h0M299.1 508.1h0M288.9 508.7h0" stroke="#ea38ea" stroke-width="2.8" stroke-linecap="round" fill="none"/>
<path d="M287.7 506.6h0M300.2 509.4h0M287.4 508.5h0M288.6 505.6h0M286.1 507.1h0M286.3 505.3h0M292.8 507.2h0M290.0 506.5h0M293.8 508.3h0M296.4 506.8h0M296.8 508.8h0M298.9 507.8h0M288.7 508.4h0" stroke="#ff6cff" stroke-width="1.45" stroke-linecap="round" fill="none"/>
<path d="M306.6 497.6h0M300.9 508.3h0M308.8 503.7h0M301.4 510.9h0M304.8 504.8h0M311.3 499.3h0M304.4 507.0h0M314.5 503.0h0M311.6 501.4h0M301.8 506.6h0M311.8 497.6h0M302.8 508.1h0M307.6 502.8h0M307.3 505.7h0M307.7 499.4h0M304.3 501.4h0M308.8 502.4h0M298.9 509.5h0M310.1 497.9h0M306.1 500.5h0M299.9 509.9h0M303.9 511.1h0" stroke="#000000" stroke-width="4.5" stroke-linecap="round" fill="none"/>
<path d="M306.6 497.6h0M300.9 508.3h0M308.8 503.7h0M301.4 510.9h0M304.8 504.8h0M311.3 499.3h0M304.4 507.0h0M314.5 503.0h0M311.6 501.4h0M301.8 506.6h0M311.8 497.6h0M302.8 508.1h0M307.6 502.8h0M307.3 505.7h0M307.7 499.4h0M304.3 501.4h0M308.8 502.4h0M298.9 509.5h0M310.1 497.9h0M306.1 500.5h0M299.9 509.9h0M303.9 511.1h0" stroke="#080808" stroke-width="2.8" stroke-linecap="round" fill="none"/>
<path d="M306.4 497.4h0M300.7 508.0h0M308.6 503.4h0M301.2 510.7h0M304.6 504.5h0M311.1 499.1h0M304.2 506.8h0M314.3 502.7h0M311.4 501.2h0M301.6 506.4h0M311.6 497.4h0M302.6 507.9h0M307.4 502.6h0M307.1 505.5h0M307.5 499.2h0M304.1 501.2h0M308.6 502.2h0M298.7 509.2h0M309.9 497.6h0M305.9 500.2h0M299.7 509.7h0M303.7 510.9h0" stroke="#3a3a3a" stroke-width="1.45" stroke-linecap="round" fill="none"/>
</g>
<text x="78.4" y="397.8" font-size="7.7" text-anchor="start" fill="#d9cf2a" stroke="#d9cf2a" stroke-width="0.15">disintegrin domain</text>
<text x="151.4" y="416.2" font-size="7.7" text-anchor="start" fill="#111" stroke="#111" stroke-width="0.15">TEVcs</text>
<text x="167.6" y="449.9" font-size="7.7" text-anchor="start" fill="#2424ff" stroke="#2424ff" stroke-width="0.15">pro-domain</text>
<text x="155.3" y="472.5" font-size="7.7" text-anchor="middle" fill="#ff2222" stroke="#ff2222" stroke-width="0.15">metalloproteinase</text>
<text x="155.6" y="481.2" font-size="7.7" text-anchor="middle" fill="#ff2222" stroke="#ff2222" stroke-width="0.15">domain</text>
<text x="32.0" y="451.7" font-size="7.7" text-anchor="middle" fill="#1fc3d2" stroke="#1fc3d2" stroke-width="0.15">transmembrane</text>
<text x="32.0" y="460.2" font-size="7.7" text-anchor="middle" fill="#1fc3d2" stroke="#1fc3d2" stroke-width="0.15">domain</text>
<text x="104.0" y="483.2" font-size="7.7" text-anchor="start" fill="#111" stroke="#111" stroke-width="0.15">TEVcs</text>
<text x="104.0" y="511.2" font-size="7.7" text-anchor="start" fill="#ee2aee" stroke="#ee2aee" stroke-width="0.15">cytoplasmic domain</text>
<text x="63.8" y="519.1" font-size="7.7" text-anchor="start" fill="#e8206e" stroke="#e8206e" stroke-width="0.15">HA</text>
<path d="M192 459.1H211.7V455.6L224 465.4L211.7 475.3V472.2H192Z" fill="#3d3d3d"/>
<text x="206.6" y="469.6" font-size="10.3" font-weight="bold" text-anchor="middle" fill="#fff">TEV</text>
</g>
<defs><linearGradient id="bg" x1="0" y1="0" x2="1" y2="0">
<stop offset="0.000" stop-color="#6a00ff"/>
<stop offset="0.083" stop-color="#2a00ff"/>
<stop offset="0.167" stop-color="#0015ff"/>
<stop offset="0.250" stop-color="#0054ff"/>
<stop offset="0.333" stop-color="#0094ff"/>
<stop offset="0.417" stop-color="#00d4ff"/>
<stop offset="0.500" stop-color="#00ffe9"/>
<stop offset="0.583" stop-color="#00ffa9"/>
<stop offset="0.667" stop-color="#00ff6a"/>
<stop offset="0.750" stop-color="#00ff2a"/>
<stop offset="0.833" stop-color="#15ff00"/>
<stop offset="0.917" stop-color="#54ff00"/>
<stop offset="1.000" stop-color="#94ff00"/>
</linearGradient></defs>
<rect x="49" y="528.6" width="300" height="3.3" fill="url(#bg)"/>
<text x="198.6" y="545.2" font-size="9.1" text-anchor="middle">BTC-AP shedding ratio (%)</text>
</svg>
</body></html>
